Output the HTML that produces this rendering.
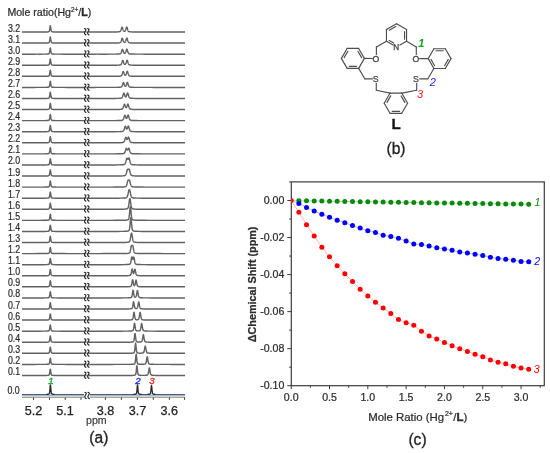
<!DOCTYPE html>
<html><head><meta charset="utf-8"><title>Figure</title>
<style>
html,body{margin:0;padding:0;background:#fff;}
body{width:550px;height:453px;overflow:hidden;position:relative;font-family:"Liberation Sans", Arial, sans-serif;}
svg text{font-family:"Liberation Sans", Arial, sans-serif;}
</style></head><body>
<svg width="550" height="453" viewBox="0 0 550 453" style="position:absolute;left:0;top:0;filter:blur(0.3px)">
<rect width="550" height="453" fill="#fff"/>
<text x="7.4" y="15.5" font-size="10.6" fill="#2b2b2b" stroke="#2b2b2b" stroke-width="0.22">Mole ratio(Hg<tspan font-size="6.4" dy="-3.3">2+</tspan><tspan dy="3.3">/</tspan><tspan font-weight="bold" stroke-width="0.45">L</tspan>)</text>
<text x="7.9" y="31.50" font-size="10.4" fill="#2b2b2b" stroke="#2b2b2b" stroke-width="0.22" textLength="12.3" lengthAdjust="spacingAndGlyphs">3.2</text>
<polyline points="22,32.00 25,32.00 28,32.00 31,32.00 34,32.00 37,31.99 40,31.99 43,31.98 44.30,31.98 44.55,31.97 44.80,31.97 45.05,31.97 45.30,31.97 45.55,31.96 45.80,31.96 46,31.95 46.05,31.95 46.30,31.95 46.55,31.94 46.80,31.93 47.05,31.92 47.30,31.91 47.55,31.89 47.80,31.87 48.05,31.84 48.30,31.80 48.55,31.75 48.80,31.65 49,31.50 49.05,31.45 49.30,31.01 49.55,30.08 49.80,28.55 50.05,26.73 50.30,25.80 50.55,26.73 50.80,28.55 51.05,30.08 51.30,31.01 51.55,31.45 51.80,31.65 52,31.73 52.05,31.75 52.30,31.80 52.55,31.84 52.80,31.87 53.05,31.89 53.30,31.91 53.55,31.92 53.80,31.93 54.05,31.94 54.30,31.95 54.55,31.95 54.80,31.96 55,31.96 55.05,31.96 55.30,31.97 55.55,31.97 55.80,31.97 56.05,31.97 56.30,31.98 58,31.98 61,31.99 64,31.99 67,32.00 70,32.00 73,32.00 76,32.00 79,32.00 82,32.00 85,32.00 88,32.00 91,32.00 94,32.00 97,31.99 100,31.99 103,31.99 106,31.99 109,31.98 112,31.97 115,31.95 116.06,31.93 116.31,31.93 116.56,31.92 116.81,31.91 117.06,31.90 117.31,31.90 117.56,31.89 117.81,31.87 118,31.86 118.06,31.86 118.31,31.84 118.56,31.82 118.81,31.80 119.06,31.77 119.31,31.73 119.56,31.67 119.81,31.58 120.06,31.44 120.31,31.22 120.56,30.88 120.71,30.60 120.81,30.38 120.96,30.01 121,29.90 121.06,29.73 121.21,29.26 121.31,28.94 121.46,28.44 121.56,28.13 121.71,27.70 121.81,27.47 121.96,27.25 122.06,27.21 122.21,27.31 122.31,27.47 122.46,27.82 122.56,28.11 122.71,28.59 122.81,28.91 122.96,29.38 123.06,29.67 123.21,30.06 123.31,30.30 123.46,30.59 123.56,30.76 123.71,30.96 123.81,31.06 123.96,31.18 124,31.20 124.06,31.23 124.21,31.28 124.31,31.30 124.46,31.30 124.56,31.28 124.71,31.22 124.81,31.16 124.96,31.04 125.06,30.93 125.21,30.72 125.31,30.54 125.46,30.23 125.56,29.99 125.71,29.58 125.81,29.27 125.96,28.78 126.06,28.44 126.21,27.95 126.31,27.65 126.46,27.28 126.56,27.11 126.71,27.02 126.81,27.06 126.96,27.29 127,27.38 127.06,27.53 127.21,27.97 127.31,28.31 127.46,28.82 127.56,29.16 127.71,29.64 127.81,29.93 127.96,30.32 128.06,30.55 128.21,30.84 128.46,31.19 128.71,31.43 128.96,31.57 129.21,31.66 129.46,31.72 129.71,31.76 129.96,31.80 130,31.80 130.21,31.82 130.46,31.84 130.71,31.86 130.96,31.87 131.21,31.88 131.46,31.89 131.71,31.90 131.96,31.91 132.21,31.92 132.46,31.92 132.71,31.93 133,31.93 136,31.97 139,31.98 142,31.99 145,31.99 148,31.99 151,31.99 154,32.00 157,32.00 160,32.00 163,32.00 166,32.00 169,32.00 172,32.00 175,32.00 178,32.00 181,32.00 184,32.00 185,32.00" fill="none" stroke="#626262" stroke-width="1.45" stroke-linejoin="round"/>
<rect x="84.60" y="30.90" width="4.2" height="2.2" fill="#fff" fill-opacity="0.45"/><path d="M84.60,28.60 C85.50,28.70 86.20,29.50 85.80,30.40 L84.80,32.00 C84.30,33.00 84.50,34.40 85.90,34.90" fill="none" stroke="#1e1e1e" stroke-width="1.15" stroke-linecap="round"/><path d="M87.70,28.60 C88.60,28.70 89.30,29.50 88.90,30.40 L87.90,32.00 C87.40,33.00 87.60,34.40 89.00,34.90" fill="none" stroke="#1e1e1e" stroke-width="1.15" stroke-linecap="round"/>
<text x="7.9" y="42.58" font-size="10.4" fill="#2b2b2b" stroke="#2b2b2b" stroke-width="0.22" textLength="12.3" lengthAdjust="spacingAndGlyphs">3.1</text>
<polyline points="22,43.08 25,43.08 28,43.08 31,43.08 34,43.08 37,43.07 40,43.07 43,43.06 44.30,43.06 44.55,43.05 44.80,43.05 45.05,43.05 45.30,43.05 45.55,43.04 45.80,43.04 46,43.03 46.05,43.03 46.30,43.03 46.55,43.02 46.80,43.01 47.05,43.00 47.30,42.99 47.55,42.97 47.80,42.95 48.05,42.92 48.30,42.88 48.55,42.83 48.80,42.73 49,42.58 49.05,42.53 49.30,42.09 49.55,41.16 49.80,39.63 50.05,37.81 50.30,36.88 50.55,37.81 50.80,39.63 51.05,41.16 51.30,42.09 51.55,42.53 51.80,42.73 52,42.81 52.05,42.83 52.30,42.88 52.55,42.92 52.80,42.95 53.05,42.97 53.30,42.99 53.55,43.00 53.80,43.01 54.05,43.02 54.30,43.03 54.55,43.03 54.80,43.04 55,43.04 55.05,43.04 55.30,43.05 55.55,43.05 55.80,43.05 56.05,43.05 56.30,43.06 58,43.06 61,43.07 64,43.07 67,43.08 70,43.08 73,43.08 76,43.08 79,43.08 82,43.08 85,43.08 88,43.08 91,43.08 94,43.08 97,43.07 100,43.07 103,43.07 106,43.07 109,43.06 112,43.05 115,43.03 116.25,43.01 116.50,43.00 116.75,43.00 117,42.99 117.25,42.98 117.50,42.98 117.75,42.97 118,42.95 118.25,42.94 118.50,42.92 118.75,42.90 119,42.88 119.25,42.85 119.50,42.81 119.75,42.75 120,42.66 120.25,42.52 120.50,42.30 120.75,41.96 120.81,41.86 121,41.46 121.06,41.32 121.25,40.81 121.31,40.63 121.50,40.02 121.56,39.83 121.75,39.21 121.81,39.03 122,38.55 122.06,38.44 122.25,38.29 122.31,38.30 122.50,38.54 122.56,38.67 122.75,39.18 122.81,39.37 123,39.98 123.06,40.17 123.25,40.74 123.31,40.90 123.50,41.36 123.56,41.49 123.75,41.82 123.81,41.91 124,42.12 124.06,42.17 124.25,42.29 124.31,42.31 124.50,42.34 124.56,42.34 124.75,42.30 124.81,42.28 125,42.15 125.06,42.10 125.25,41.87 125.31,41.78 125.50,41.43 125.56,41.29 125.75,40.81 125.81,40.64 126,40.04 126.06,39.84 126.25,39.21 126.31,39.01 126.50,38.48 126.56,38.35 126.75,38.10 126.81,38.09 127,38.26 127.06,38.37 127.25,38.87 127.31,39.06 127.50,39.71 127.56,39.91 127.75,40.54 127.81,40.73 128,41.26 128.06,41.41 128.25,41.82 128.31,41.92 128.56,42.28 128.81,42.51 129.06,42.65 129.31,42.74 129.56,42.80 129.81,42.84 130,42.87 130.06,42.87 130.31,42.90 130.56,42.92 130.81,42.94 131.06,42.95 131.31,42.96 131.56,42.97 131.81,42.98 132.06,42.99 132.31,43.00 132.56,43.00 132.81,43.01 133,43.01 136,43.05 139,43.06 142,43.07 145,43.07 148,43.07 151,43.07 154,43.08 157,43.08 160,43.08 163,43.08 166,43.08 169,43.08 172,43.08 175,43.08 178,43.08 181,43.08 184,43.08 185,43.08" fill="none" stroke="#626262" stroke-width="1.45" stroke-linejoin="round"/>
<rect x="84.60" y="41.98" width="4.2" height="2.2" fill="#fff" fill-opacity="0.45"/><path d="M84.60,39.68 C85.50,39.78 86.20,40.58 85.80,41.48 L84.80,43.08 C84.30,44.08 84.50,45.48 85.90,45.98" fill="none" stroke="#1e1e1e" stroke-width="1.15" stroke-linecap="round"/><path d="M87.70,39.68 C88.60,39.78 89.30,40.58 88.90,41.48 L87.90,43.08 C87.40,44.08 87.60,45.48 89.00,45.98" fill="none" stroke="#1e1e1e" stroke-width="1.15" stroke-linecap="round"/>
<text x="7.9" y="53.66" font-size="10.4" fill="#2b2b2b" stroke="#2b2b2b" stroke-width="0.22" textLength="12.3" lengthAdjust="spacingAndGlyphs">3.0</text>
<polyline points="22,54.16 25,54.16 28,54.16 31,54.16 34,54.16 37,54.15 40,54.15 43,54.14 44.30,54.14 44.55,54.13 44.80,54.13 45.05,54.13 45.30,54.13 45.55,54.12 45.80,54.12 46,54.11 46.05,54.11 46.30,54.11 46.55,54.10 46.80,54.09 47.05,54.08 47.30,54.07 47.55,54.05 47.80,54.03 48.05,54.00 48.30,53.96 48.55,53.91 48.80,53.81 49,53.66 49.05,53.61 49.30,53.17 49.55,52.24 49.80,50.71 50.05,48.89 50.30,47.96 50.55,48.89 50.80,50.71 51.05,52.24 51.30,53.17 51.55,53.61 51.80,53.81 52,53.89 52.05,53.91 52.30,53.96 52.55,54.00 52.80,54.03 53.05,54.05 53.30,54.07 53.55,54.08 53.80,54.09 54.05,54.10 54.30,54.11 54.55,54.11 54.80,54.12 55,54.12 55.05,54.12 55.30,54.13 55.55,54.13 55.80,54.13 56.05,54.13 56.30,54.14 58,54.14 61,54.15 64,54.15 67,54.16 70,54.16 73,54.16 76,54.16 79,54.16 82,54.16 85,54.16 88,54.16 91,54.16 94,54.16 97,54.15 100,54.15 103,54.15 106,54.15 109,54.14 112,54.13 115,54.11 116.44,54.09 116.69,54.08 116.94,54.08 117.19,54.07 117.44,54.06 117.69,54.06 117.94,54.04 118,54.04 118.19,54.03 118.44,54.02 118.69,54.00 118.94,53.98 119.19,53.96 119.44,53.93 119.69,53.89 119.94,53.83 120.19,53.74 120.44,53.60 120.69,53.38 120.87,53.15 120.94,53.04 121,52.94 121.12,52.70 121.19,52.55 121.37,52.09 121.44,51.89 121.62,51.34 121.69,51.11 121.87,50.51 121.94,50.29 122.12,49.79 122.19,49.63 122.37,49.39 122.44,49.36 122.62,49.49 122.69,49.61 122.87,50.04 122.94,50.25 123.12,50.82 123.19,51.04 123.37,51.60 123.44,51.80 123.62,52.27 123.69,52.43 123.87,52.77 123.94,52.88 124,52.97 124.12,53.11 124.19,53.18 124.37,53.30 124.44,53.33 124.62,53.37 124.69,53.37 124.87,53.32 124.94,53.29 125.12,53.16 125.19,53.09 125.37,52.85 125.44,52.73 125.62,52.37 125.69,52.21 125.87,51.72 125.94,51.51 126.12,50.93 126.19,50.69 126.37,50.10 126.44,49.88 126.62,49.43 126.69,49.30 126.87,49.17 126.94,49.19 127,49.24 127.12,49.44 127.19,49.60 127.37,50.13 127.44,50.36 127.62,50.98 127.69,51.21 127.87,51.79 127.94,52.00 128.12,52.48 128.19,52.64 128.37,52.99 128.44,53.11 128.62,53.35 128.87,53.58 129.12,53.73 129.37,53.82 129.62,53.88 129.87,53.92 130,53.94 130.12,53.95 130.37,53.98 130.62,54.00 130.87,54.02 131.12,54.03 131.37,54.04 131.62,54.05 131.87,54.06 132.12,54.07 132.37,54.08 132.62,54.08 132.87,54.09 133,54.09 136,54.13 139,54.14 142,54.15 145,54.15 148,54.15 151,54.15 154,54.16 157,54.16 160,54.16 163,54.16 166,54.16 169,54.16 172,54.16 175,54.16 178,54.16 181,54.16 184,54.16 185,54.16" fill="none" stroke="#626262" stroke-width="1.45" stroke-linejoin="round"/>
<rect x="84.60" y="53.06" width="4.2" height="2.2" fill="#fff" fill-opacity="0.45"/><path d="M84.60,50.76 C85.50,50.86 86.20,51.66 85.80,52.56 L84.80,54.16 C84.30,55.16 84.50,56.56 85.90,57.06" fill="none" stroke="#1e1e1e" stroke-width="1.15" stroke-linecap="round"/><path d="M87.70,50.76 C88.60,50.86 89.30,51.66 88.90,52.56 L87.90,54.16 C87.40,55.16 87.60,56.56 89.00,57.06" fill="none" stroke="#1e1e1e" stroke-width="1.15" stroke-linecap="round"/>
<text x="7.9" y="64.74" font-size="10.4" fill="#2b2b2b" stroke="#2b2b2b" stroke-width="0.22" textLength="12.3" lengthAdjust="spacingAndGlyphs">2.9</text>
<polyline points="22,65.24 25,65.24 28,65.24 31,65.24 34,65.24 37,65.23 40,65.23 43,65.22 44.30,65.22 44.55,65.21 44.80,65.21 45.05,65.21 45.30,65.21 45.55,65.20 45.80,65.20 46,65.19 46.05,65.19 46.30,65.19 46.55,65.18 46.80,65.17 47.05,65.16 47.30,65.15 47.55,65.13 47.80,65.11 48.05,65.08 48.30,65.04 48.55,64.99 48.80,64.89 49,64.74 49.05,64.69 49.30,64.25 49.55,63.32 49.80,61.79 50.05,59.97 50.30,59.04 50.55,59.97 50.80,61.79 51.05,63.32 51.30,64.25 51.55,64.69 51.80,64.89 52,64.97 52.05,64.99 52.30,65.04 52.55,65.08 52.80,65.11 53.05,65.13 53.30,65.15 53.55,65.16 53.80,65.17 54.05,65.18 54.30,65.19 54.55,65.19 54.80,65.20 55,65.20 55.05,65.20 55.30,65.21 55.55,65.21 55.80,65.21 56.05,65.21 56.30,65.22 58,65.22 61,65.23 64,65.23 67,65.24 70,65.24 73,65.24 76,65.24 79,65.24 82,65.24 85,65.24 88,65.24 91,65.24 94,65.24 97,65.23 100,65.23 103,65.23 106,65.23 109,65.22 112,65.21 115,65.20 116.76,65.17 117.01,65.16 117.26,65.16 117.51,65.15 117.76,65.14 118,65.14 118.01,65.13 118.26,65.12 118.51,65.11 118.76,65.10 119.01,65.08 119.26,65.06 119.51,65.04 119.76,65.01 120.01,64.97 120.26,64.91 120.51,64.82 120.76,64.68 121,64.47 121.01,64.46 121.10,64.35 121.26,64.12 121.35,63.96 121.51,63.62 121.60,63.41 121.76,62.97 121.85,62.70 122.01,62.18 122.10,61.89 122.26,61.37 122.35,61.10 122.51,60.71 122.60,60.55 122.76,60.44 122.85,60.47 123.01,60.68 123.10,60.88 123.26,61.32 123.35,61.60 123.51,62.11 123.60,62.40 123.76,62.87 123.85,63.11 124,63.47 124.01,63.49 124.10,63.68 124.26,63.95 124.35,64.07 124.51,64.23 124.60,64.30 124.76,64.38 124.85,64.40 125.01,64.39 125.10,64.37 125.26,64.28 125.35,64.21 125.51,64.03 125.60,63.90 125.76,63.62 125.85,63.43 126.01,63.03 126.10,62.77 126.26,62.28 126.35,61.98 126.51,61.44 126.60,61.15 126.76,60.70 126.85,60.49 127,60.28 127.01,60.27 127.10,60.24 127.26,60.37 127.35,60.53 127.51,60.94 127.60,61.22 127.76,61.76 127.85,62.07 128.01,62.61 128.10,62.89 128.26,63.34 128.35,63.57 128.51,63.92 128.60,64.08 128.76,64.32 128.85,64.44 129.10,64.67 129.35,64.81 129.60,64.90 129.85,64.96 130,64.99 130.10,65.00 130.35,65.03 130.60,65.06 130.85,65.08 131.10,65.10 131.35,65.11 131.60,65.12 131.85,65.13 132.10,65.14 132.35,65.15 132.60,65.16 132.85,65.16 133,65.17 133.10,65.17 136,65.20 139,65.22 142,65.23 145,65.23 148,65.23 151,65.23 154,65.24 157,65.24 160,65.24 163,65.24 166,65.24 169,65.24 172,65.24 175,65.24 178,65.24 181,65.24 184,65.24 185,65.24" fill="none" stroke="#626262" stroke-width="1.45" stroke-linejoin="round"/>
<rect x="84.60" y="64.14" width="4.2" height="2.2" fill="#fff" fill-opacity="0.45"/><path d="M84.60,61.84 C85.50,61.94 86.20,62.74 85.80,63.64 L84.80,65.24 C84.30,66.24 84.50,67.64 85.90,68.14" fill="none" stroke="#1e1e1e" stroke-width="1.15" stroke-linecap="round"/><path d="M87.70,61.84 C88.60,61.94 89.30,62.74 88.90,63.64 L87.90,65.24 C87.40,66.24 87.60,67.64 89.00,68.14" fill="none" stroke="#1e1e1e" stroke-width="1.15" stroke-linecap="round"/>
<text x="7.9" y="75.82" font-size="10.4" fill="#2b2b2b" stroke="#2b2b2b" stroke-width="0.22" textLength="12.3" lengthAdjust="spacingAndGlyphs">2.8</text>
<polyline points="22,76.32 25,76.32 28,76.32 31,76.32 34,76.32 37,76.31 40,76.31 43,76.30 44.30,76.30 44.55,76.29 44.80,76.29 45.05,76.29 45.30,76.29 45.55,76.28 45.80,76.28 46,76.27 46.05,76.27 46.30,76.27 46.55,76.26 46.80,76.25 47.05,76.24 47.30,76.23 47.55,76.21 47.80,76.19 48.05,76.16 48.30,76.12 48.55,76.07 48.80,75.97 49,75.82 49.05,75.77 49.30,75.33 49.55,74.40 49.80,72.87 50.05,71.05 50.30,70.12 50.55,71.05 50.80,72.87 51.05,74.40 51.30,75.33 51.55,75.77 51.80,75.97 52,76.05 52.05,76.07 52.30,76.12 52.55,76.16 52.80,76.19 53.05,76.21 53.30,76.23 53.55,76.24 53.80,76.25 54.05,76.26 54.30,76.27 54.55,76.27 54.80,76.28 55,76.28 55.05,76.28 55.30,76.29 55.55,76.29 55.80,76.29 56.05,76.29 56.30,76.30 58,76.30 61,76.31 64,76.31 67,76.32 70,76.32 73,76.32 76,76.32 79,76.32 82,76.32 85,76.32 88,76.32 91,76.32 94,76.32 97,76.31 100,76.31 103,76.31 106,76.31 109,76.30 112,76.30 115,76.28 117.21,76.25 117.46,76.24 117.71,76.24 117.96,76.23 118,76.23 118.21,76.22 118.46,76.21 118.71,76.20 118.96,76.19 119.21,76.18 119.46,76.16 119.71,76.14 119.96,76.12 120.21,76.08 120.46,76.04 120.71,75.99 120.96,75.90 121,75.88 121.21,75.76 121.26,75.72 121.46,75.53 121.51,75.47 121.71,75.19 121.76,75.10 121.96,74.69 122.01,74.57 122.21,74.04 122.26,73.89 122.46,73.25 122.51,73.08 122.71,72.43 122.76,72.28 122.96,71.77 123.01,71.68 123.21,71.50 123.26,71.51 123.46,71.75 123.51,71.86 123.71,72.39 123.76,72.54 123.96,73.18 124,73.30 124.01,73.33 124.21,73.93 124.26,74.06 124.46,74.54 124.51,74.64 124.71,74.97 124.76,75.04 124.96,75.23 125.01,75.26 125.21,75.31 125.26,75.31 125.46,75.24 125.51,75.20 125.71,75.00 125.76,74.93 125.96,74.57 126.01,74.47 126.21,73.96 126.26,73.82 126.46,73.20 126.51,73.04 126.71,72.37 126.76,72.21 126.96,71.66 127,71.58 127.01,71.56 127.21,71.32 127.26,71.31 127.46,71.50 127.51,71.60 127.71,72.13 127.76,72.29 127.96,72.97 128.01,73.15 128.21,73.81 128.26,73.96 128.46,74.52 128.51,74.64 128.71,75.07 128.76,75.16 128.96,75.45 129.01,75.51 129.21,75.70 129.26,75.74 129.51,75.89 129.76,75.98 130,76.03 130.01,76.04 130.26,76.08 130.51,76.11 130.76,76.14 131.01,76.16 131.26,76.17 131.51,76.19 131.76,76.20 132.01,76.21 132.26,76.22 132.51,76.23 132.76,76.24 133,76.24 133.01,76.24 133.26,76.25 136,76.28 139,76.30 142,76.31 145,76.31 148,76.31 151,76.31 154,76.32 157,76.32 160,76.32 163,76.32 166,76.32 169,76.32 172,76.32 175,76.32 178,76.32 181,76.32 184,76.32 185,76.32" fill="none" stroke="#626262" stroke-width="1.45" stroke-linejoin="round"/>
<rect x="84.60" y="75.22" width="4.2" height="2.2" fill="#fff" fill-opacity="0.45"/><path d="M84.60,72.92 C85.50,73.02 86.20,73.82 85.80,74.72 L84.80,76.32 C84.30,77.32 84.50,78.72 85.90,79.22" fill="none" stroke="#1e1e1e" stroke-width="1.15" stroke-linecap="round"/><path d="M87.70,72.92 C88.60,73.02 89.30,73.82 88.90,74.72 L87.90,76.32 C87.40,77.32 87.60,78.72 89.00,79.22" fill="none" stroke="#1e1e1e" stroke-width="1.15" stroke-linecap="round"/>
<text x="7.9" y="86.90" font-size="10.4" fill="#2b2b2b" stroke="#2b2b2b" stroke-width="0.22" textLength="12.3" lengthAdjust="spacingAndGlyphs">2.7</text>
<polyline points="22,87.40 25,87.40 28,87.40 31,87.40 34,87.40 37,87.39 40,87.39 43,87.38 44.30,87.38 44.55,87.37 44.80,87.37 45.05,87.37 45.30,87.37 45.55,87.36 45.80,87.36 46,87.35 46.05,87.35 46.30,87.35 46.55,87.34 46.80,87.33 47.05,87.32 47.30,87.31 47.55,87.29 47.80,87.27 48.05,87.24 48.30,87.20 48.55,87.15 48.80,87.05 49,86.90 49.05,86.85 49.30,86.41 49.55,85.48 49.80,83.95 50.05,82.13 50.30,81.20 50.55,82.13 50.80,83.95 51.05,85.48 51.30,86.41 51.55,86.85 51.80,87.05 52,87.13 52.05,87.15 52.30,87.20 52.55,87.24 52.80,87.27 53.05,87.29 53.30,87.31 53.55,87.32 53.80,87.33 54.05,87.34 54.30,87.35 54.55,87.35 54.80,87.36 55,87.36 55.05,87.36 55.30,87.37 55.55,87.37 55.80,87.37 56.05,87.37 56.30,87.38 58,87.38 61,87.39 64,87.39 67,87.40 70,87.40 73,87.40 76,87.40 79,87.40 82,87.40 85,87.40 88,87.40 91,87.40 94,87.40 97,87.39 100,87.39 103,87.39 106,87.39 109,87.38 112,87.38 115,87.36 117.46,87.33 117.71,87.32 117.96,87.32 118,87.32 118.21,87.31 118.46,87.30 118.71,87.29 118.96,87.28 119.21,87.27 119.46,87.26 119.71,87.24 119.96,87.22 120.21,87.19 120.46,87.16 120.71,87.12 120.96,87.07 121,87.05 121.21,86.98 121.38,86.89 121.46,86.84 121.63,86.70 121.71,86.62 121.88,86.40 121.96,86.28 122.13,85.96 122.21,85.78 122.38,85.36 122.46,85.13 122.63,84.61 122.71,84.34 122.88,83.78 122.96,83.53 123.13,83.04 123.21,82.86 123.38,82.61 123.46,82.58 123.63,82.68 123.71,82.81 123.88,83.21 123.96,83.44 124,83.56 124.13,83.97 124.21,84.22 124.38,84.74 124.46,84.97 124.63,85.40 124.71,85.58 124.88,85.89 124.96,86.01 125.13,86.19 125.21,86.24 125.38,86.30 125.46,86.30 125.63,86.23 125.71,86.17 125.88,85.98 125.96,85.86 126.13,85.54 126.21,85.36 126.38,84.91 126.46,84.67 126.63,84.13 126.71,83.86 126.88,83.31 126.96,83.07 127,82.96 127.13,82.64 127.21,82.51 127.38,82.38 127.46,82.41 127.63,82.66 127.71,82.84 127.88,83.34 127.96,83.61 128.13,84.19 128.21,84.47 128.38,85.02 128.46,85.25 128.63,85.70 128.71,85.89 128.88,86.22 128.96,86.35 129.13,86.58 129.21,86.67 129.38,86.81 129.46,86.87 129.63,86.96 129.88,87.05 130,87.09 130.13,87.11 130.38,87.16 130.63,87.19 130.88,87.21 131.13,87.23 131.38,87.25 131.63,87.27 131.88,87.28 132.13,87.29 132.38,87.30 132.63,87.31 132.88,87.31 133,87.32 133.13,87.32 133.38,87.33 136,87.36 139,87.38 142,87.39 145,87.39 148,87.39 151,87.39 154,87.40 157,87.40 160,87.40 163,87.40 166,87.40 169,87.40 172,87.40 175,87.40 178,87.40 181,87.40 184,87.40 185,87.40" fill="none" stroke="#626262" stroke-width="1.45" stroke-linejoin="round"/>
<rect x="84.60" y="86.30" width="4.2" height="2.2" fill="#fff" fill-opacity="0.45"/><path d="M84.60,84.00 C85.50,84.10 86.20,84.90 85.80,85.80 L84.80,87.40 C84.30,88.40 84.50,89.80 85.90,90.30" fill="none" stroke="#1e1e1e" stroke-width="1.15" stroke-linecap="round"/><path d="M87.70,84.00 C88.60,84.10 89.30,84.90 88.90,85.80 L87.90,87.40 C87.40,88.40 87.60,89.80 89.00,90.30" fill="none" stroke="#1e1e1e" stroke-width="1.15" stroke-linecap="round"/>
<text x="7.9" y="97.98" font-size="10.4" fill="#2b2b2b" stroke="#2b2b2b" stroke-width="0.22" textLength="12.3" lengthAdjust="spacingAndGlyphs">2.6</text>
<polyline points="22,98.48 25,98.48 28,98.48 31,98.48 34,98.48 37,98.47 40,98.47 43,98.46 44.30,98.46 44.55,98.45 44.80,98.45 45.05,98.45 45.30,98.45 45.55,98.44 45.80,98.44 46,98.43 46.05,98.43 46.30,98.43 46.55,98.42 46.80,98.41 47.05,98.40 47.30,98.39 47.55,98.37 47.80,98.35 48.05,98.32 48.30,98.28 48.55,98.23 48.80,98.13 49,97.98 49.05,97.93 49.30,97.49 49.55,96.56 49.80,95.03 50.05,93.21 50.30,92.28 50.55,93.21 50.80,95.03 51.05,96.56 51.30,97.49 51.55,97.93 51.80,98.13 52,98.21 52.05,98.23 52.30,98.28 52.55,98.32 52.80,98.35 53.05,98.37 53.30,98.39 53.55,98.40 53.80,98.41 54.05,98.42 54.30,98.43 54.55,98.43 54.80,98.44 55,98.44 55.05,98.44 55.30,98.45 55.55,98.45 55.80,98.45 56.05,98.45 56.30,98.46 58,98.46 61,98.47 64,98.47 67,98.48 70,98.48 73,98.48 76,98.48 79,98.48 82,98.48 85,98.48 88,98.48 91,98.48 94,98.47 97,98.47 100,98.47 103,98.47 106,98.47 109,98.46 112,98.45 115,98.44 117.85,98.39 118,98.39 118.10,98.38 118.35,98.38 118.60,98.37 118.85,98.36 119.10,98.35 119.35,98.33 119.60,98.32 119.85,98.30 120.10,98.28 120.35,98.26 120.60,98.23 120.85,98.19 121,98.16 121.10,98.13 121.35,98.06 121.60,97.94 121.61,97.94 121.85,97.76 121.86,97.75 122.10,97.48 122.11,97.47 122.35,97.07 122.36,97.05 122.60,96.50 122.61,96.47 122.85,95.77 122.86,95.74 123.10,94.92 123.11,94.89 123.35,94.07 123.36,94.04 123.60,93.39 123.61,93.37 123.85,93.12 123.86,93.12 124,93.20 124.10,93.36 124.11,93.38 124.35,94.00 124.36,94.03 124.60,94.81 124.61,94.84 124.85,95.59 124.86,95.62 125.10,96.23 125.11,96.25 125.35,96.68 125.36,96.69 125.60,96.90 125.61,96.90 125.85,96.89 125.86,96.89 126.10,96.65 126.11,96.64 126.35,96.19 126.36,96.16 126.60,95.52 126.61,95.49 126.85,94.70 126.86,94.67 127,94.19 127.10,93.86 127.11,93.83 127.35,93.19 127.36,93.17 127.60,92.92 127.61,92.93 127.85,93.19 127.86,93.22 128.10,93.89 128.11,93.92 128.35,94.77 128.36,94.81 128.60,95.65 128.61,95.69 128.85,96.41 128.86,96.44 129.10,97.01 129.11,97.03 129.35,97.44 129.36,97.45 129.60,97.73 129.61,97.74 129.85,97.92 129.86,97.93 130,98.00 130.11,98.05 130.36,98.13 130.61,98.18 130.86,98.22 131.11,98.25 131.36,98.28 131.61,98.30 131.86,98.32 132.11,98.33 132.36,98.34 132.61,98.36 132.86,98.37 133,98.37 133.11,98.38 133.36,98.38 133.61,98.39 136,98.43 139,98.45 142,98.46 145,98.47 148,98.47 151,98.47 154,98.47 157,98.47 160,98.48 163,98.48 166,98.48 169,98.48 172,98.48 175,98.48 178,98.48 181,98.48 184,98.48 185,98.48" fill="none" stroke="#626262" stroke-width="1.45" stroke-linejoin="round"/>
<rect x="84.60" y="97.38" width="4.2" height="2.2" fill="#fff" fill-opacity="0.45"/><path d="M84.60,95.08 C85.50,95.18 86.20,95.98 85.80,96.88 L84.80,98.48 C84.30,99.48 84.50,100.88 85.90,101.38" fill="none" stroke="#1e1e1e" stroke-width="1.15" stroke-linecap="round"/><path d="M87.70,95.08 C88.60,95.18 89.30,95.98 88.90,96.88 L87.90,98.48 C87.40,99.48 87.60,100.88 89.00,101.38" fill="none" stroke="#1e1e1e" stroke-width="1.15" stroke-linecap="round"/>
<text x="7.9" y="109.06" font-size="10.4" fill="#2b2b2b" stroke="#2b2b2b" stroke-width="0.22" textLength="12.3" lengthAdjust="spacingAndGlyphs">2.5</text>
<polyline points="22,109.56 25,109.56 28,109.56 31,109.56 34,109.56 37,109.55 40,109.55 43,109.54 44.30,109.54 44.55,109.53 44.80,109.53 45.05,109.53 45.30,109.53 45.55,109.52 45.80,109.52 46,109.51 46.05,109.51 46.30,109.51 46.55,109.50 46.80,109.49 47.05,109.48 47.30,109.47 47.55,109.45 47.80,109.43 48.05,109.40 48.30,109.36 48.55,109.31 48.80,109.21 49,109.06 49.05,109.01 49.30,108.57 49.55,107.64 49.80,106.11 50.05,104.29 50.30,103.36 50.55,104.29 50.80,106.11 51.05,107.64 51.30,108.57 51.55,109.01 51.80,109.21 52,109.29 52.05,109.31 52.30,109.36 52.55,109.40 52.80,109.43 53.05,109.45 53.30,109.47 53.55,109.48 53.80,109.49 54.05,109.50 54.30,109.51 54.55,109.51 54.80,109.52 55,109.52 55.05,109.52 55.30,109.53 55.55,109.53 55.80,109.53 56.05,109.53 56.30,109.54 58,109.54 61,109.55 64,109.55 67,109.56 70,109.56 73,109.56 76,109.56 79,109.56 82,109.56 85,109.56 88,109.56 91,109.56 94,109.55 97,109.55 100,109.55 103,109.55 106,109.55 109,109.54 112,109.54 115,109.52 118,109.48 118.39,109.47 118.64,109.46 118.89,109.46 119.14,109.45 119.39,109.44 119.64,109.43 119.89,109.41 120.14,109.40 120.39,109.38 120.64,109.36 120.89,109.33 121,109.32 121.14,109.30 121.39,109.26 121.64,109.21 121.89,109.13 121.90,109.13 122.14,109.02 122.15,109.01 122.39,108.84 122.40,108.83 122.64,108.56 122.65,108.55 122.89,108.15 122.90,108.13 123.14,107.58 123.15,107.55 123.39,106.85 123.40,106.82 123.64,106.01 123.65,105.97 123.89,105.15 123.90,105.11 124,104.81 124.14,104.46 124.15,104.44 124.39,104.18 124.40,104.18 124.64,104.40 124.65,104.42 124.89,105.03 124.90,105.06 125.14,105.82 125.15,105.85 125.39,106.58 125.40,106.61 125.64,107.19 125.65,107.21 125.89,107.57 125.90,107.58 126.14,107.69 126.15,107.69 126.39,107.55 126.40,107.54 126.64,107.15 126.65,107.13 126.89,106.52 126.90,106.49 127,106.18 127.14,105.73 127.15,105.69 127.39,104.90 127.40,104.87 127.64,104.24 127.65,104.22 127.89,103.98 127.90,103.98 128.14,104.26 128.15,104.28 128.39,104.96 128.40,104.99 128.64,105.85 128.65,105.89 128.89,106.73 128.90,106.76 129.14,107.49 129.15,107.52 129.39,108.09 129.40,108.11 129.64,108.52 129.65,108.53 129.89,108.81 129.90,108.82 130,108.90 130.14,109.00 130.15,109.00 130.39,109.12 130.40,109.12 130.65,109.20 130.90,109.26 131.15,109.30 131.40,109.33 131.65,109.36 131.90,109.38 132.15,109.39 132.40,109.41 132.65,109.42 132.90,109.43 133,109.44 133.15,109.44 133.40,109.45 133.65,109.46 133.90,109.47 136,109.51 139,109.53 142,109.54 145,109.55 148,109.55 151,109.55 154,109.55 157,109.55 160,109.56 163,109.56 166,109.56 169,109.56 172,109.56 175,109.56 178,109.56 181,109.56 184,109.56 185,109.56" fill="none" stroke="#626262" stroke-width="1.45" stroke-linejoin="round"/>
<rect x="84.60" y="108.46" width="4.2" height="2.2" fill="#fff" fill-opacity="0.45"/><path d="M84.60,106.16 C85.50,106.26 86.20,107.06 85.80,107.96 L84.80,109.56 C84.30,110.56 84.50,111.96 85.90,112.46" fill="none" stroke="#1e1e1e" stroke-width="1.15" stroke-linecap="round"/><path d="M87.70,106.16 C88.60,106.26 89.30,107.06 88.90,107.96 L87.90,109.56 C87.40,110.56 87.60,111.96 89.00,112.46" fill="none" stroke="#1e1e1e" stroke-width="1.15" stroke-linecap="round"/>
<text x="7.9" y="120.14" font-size="10.4" fill="#2b2b2b" stroke="#2b2b2b" stroke-width="0.22" textLength="12.3" lengthAdjust="spacingAndGlyphs">2.4</text>
<polyline points="22,120.64 25,120.64 28,120.64 31,120.64 34,120.64 37,120.63 40,120.63 43,120.62 44.30,120.62 44.55,120.61 44.80,120.61 45.05,120.61 45.30,120.61 45.55,120.60 45.80,120.60 46,120.59 46.05,120.59 46.30,120.59 46.55,120.58 46.80,120.57 47.05,120.56 47.30,120.55 47.55,120.53 47.80,120.51 48.05,120.48 48.30,120.44 48.55,120.39 48.80,120.29 49,120.14 49.05,120.09 49.30,119.65 49.55,118.72 49.80,117.19 50.05,115.37 50.30,114.44 50.55,115.37 50.80,117.19 51.05,118.72 51.30,119.65 51.55,120.09 51.80,120.29 52,120.37 52.05,120.39 52.30,120.44 52.55,120.48 52.80,120.51 53.05,120.53 53.30,120.55 53.55,120.56 53.80,120.57 54.05,120.58 54.30,120.59 54.55,120.59 54.80,120.60 55,120.60 55.05,120.60 55.30,120.61 55.55,120.61 55.80,120.61 56.05,120.61 56.30,120.62 58,120.62 61,120.63 64,120.63 67,120.64 70,120.64 73,120.64 76,120.64 79,120.64 82,120.64 85,120.64 88,120.64 91,120.64 94,120.64 97,120.63 100,120.63 103,120.63 106,120.63 109,120.62 112,120.62 115,120.60 118,120.57 118.84,120.55 119.09,120.54 119.34,120.53 119.59,120.52 119.84,120.51 120.09,120.50 120.34,120.49 120.59,120.47 120.84,120.46 121,120.44 121.09,120.44 121.34,120.41 121.59,120.38 121.84,120.34 122.09,120.29 122.12,120.28 122.34,120.21 122.37,120.20 122.59,120.09 122.62,120.07 122.84,119.91 122.87,119.88 123.09,119.63 123.12,119.59 123.34,119.22 123.37,119.16 123.59,118.65 123.62,118.57 123.84,117.91 123.87,117.82 124,117.38 124.09,117.06 124.12,116.96 124.34,116.20 124.37,116.11 124.59,115.52 124.62,115.46 124.84,115.23 124.87,115.23 125.09,115.45 125.12,115.51 125.34,116.07 125.37,116.16 125.59,116.84 125.62,116.93 125.84,117.57 125.87,117.64 126.09,118.11 126.12,118.16 126.34,118.41 126.37,118.42 126.59,118.41 126.62,118.39 126.84,118.12 126.87,118.06 127,117.79 127.09,117.57 127.12,117.48 127.34,116.82 127.37,116.72 127.59,116.01 127.62,115.92 127.84,115.33 127.87,115.27 128.09,115.04 128.12,115.04 128.34,115.27 128.37,115.33 128.59,115.95 128.62,116.05 128.84,116.83 128.87,116.94 129.09,117.72 129.12,117.82 129.34,118.49 129.37,118.58 129.59,119.11 129.62,119.17 129.84,119.55 129.87,119.60 130,119.76 130.09,119.86 130.12,119.89 130.34,120.06 130.37,120.08 130.59,120.19 130.62,120.20 130.84,120.27 130.87,120.28 131.12,120.33 131.37,120.37 131.62,120.41 131.87,120.43 132.12,120.45 132.37,120.47 132.62,120.49 132.87,120.50 133,120.51 133.12,120.51 133.37,120.52 133.62,120.53 133.87,120.54 134.12,120.55 136,120.58 139,120.61 142,120.62 145,120.63 148,120.63 151,120.63 154,120.63 157,120.63 160,120.64 163,120.64 166,120.64 169,120.64 172,120.64 175,120.64 178,120.64 181,120.64 184,120.64 185,120.64" fill="none" stroke="#626262" stroke-width="1.45" stroke-linejoin="round"/>
<rect x="84.60" y="119.54" width="4.2" height="2.2" fill="#fff" fill-opacity="0.45"/><path d="M84.60,117.24 C85.50,117.34 86.20,118.14 85.80,119.04 L84.80,120.64 C84.30,121.64 84.50,123.04 85.90,123.54" fill="none" stroke="#1e1e1e" stroke-width="1.15" stroke-linecap="round"/><path d="M87.70,117.24 C88.60,117.34 89.30,118.14 88.90,119.04 L87.90,120.64 C87.40,121.64 87.60,123.04 89.00,123.54" fill="none" stroke="#1e1e1e" stroke-width="1.15" stroke-linecap="round"/>
<text x="7.9" y="131.22" font-size="10.4" fill="#2b2b2b" stroke="#2b2b2b" stroke-width="0.22" textLength="12.3" lengthAdjust="spacingAndGlyphs">2.3</text>
<polyline points="22,131.72 25,131.72 28,131.72 31,131.72 34,131.72 37,131.71 40,131.71 43,131.70 44.30,131.70 44.55,131.69 44.80,131.69 45.05,131.69 45.30,131.69 45.55,131.68 45.80,131.68 46,131.67 46.05,131.67 46.30,131.67 46.55,131.66 46.80,131.65 47.05,131.64 47.30,131.63 47.55,131.61 47.80,131.59 48.05,131.56 48.30,131.52 48.55,131.47 48.80,131.37 49,131.22 49.05,131.17 49.30,130.73 49.55,129.80 49.80,128.27 50.05,126.45 50.30,125.52 50.55,126.45 50.80,128.27 51.05,129.80 51.30,130.73 51.55,131.17 51.80,131.37 52,131.45 52.05,131.47 52.30,131.52 52.55,131.56 52.80,131.59 53.05,131.61 53.30,131.63 53.55,131.64 53.80,131.65 54.05,131.66 54.30,131.67 54.55,131.67 54.80,131.68 55,131.68 55.05,131.68 55.30,131.69 55.55,131.69 55.80,131.69 56.05,131.69 56.30,131.70 58,131.70 61,131.71 64,131.71 67,131.72 70,131.72 73,131.72 76,131.72 79,131.72 82,131.72 85,131.72 88,131.72 91,131.72 94,131.72 97,131.71 100,131.71 103,131.71 106,131.71 109,131.70 112,131.70 115,131.68 118,131.65 119.29,131.63 119.54,131.62 119.79,131.61 120.04,131.60 120.29,131.59 120.54,131.58 120.79,131.57 121,131.55 121.04,131.55 121.29,131.53 121.54,131.51 121.79,131.49 122.04,131.46 122.29,131.41 122.31,131.41 122.54,131.36 122.56,131.35 122.79,131.28 122.81,131.27 123.04,131.16 123.06,131.15 123.29,130.98 123.31,130.96 123.54,130.70 123.56,130.67 123.79,130.28 123.81,130.24 124,129.81 124.04,129.71 124.06,129.65 124.29,128.97 124.31,128.91 124.54,128.12 124.56,128.05 124.79,127.25 124.81,127.19 125.04,126.57 125.06,126.52 125.29,126.27 125.31,126.27 125.54,126.49 125.56,126.52 125.79,127.08 125.81,127.14 126.04,127.82 126.06,127.87 126.29,128.47 126.31,128.52 126.54,128.92 126.56,128.94 126.79,129.07 126.81,129.07 127,128.96 127.04,128.91 127.06,128.88 127.29,128.45 127.31,128.40 127.54,127.76 127.56,127.70 127.79,126.99 127.81,126.93 128.04,126.35 128.06,126.31 128.29,126.08 128.31,126.08 128.54,126.34 128.56,126.38 128.79,127.03 128.81,127.10 129.04,127.92 129.06,127.99 129.29,128.81 129.31,128.88 129.54,129.58 129.56,129.64 129.79,130.19 129.81,130.23 130,130.58 130.04,130.64 130.06,130.66 130.29,130.94 130.31,130.96 130.54,131.14 130.56,131.15 130.79,131.26 130.81,131.27 131.04,131.35 131.06,131.35 131.29,131.40 131.31,131.41 131.56,131.45 131.81,131.48 132.06,131.51 132.31,131.53 132.56,131.55 132.81,131.56 133,131.58 133.06,131.58 133.31,131.59 133.56,131.60 133.81,131.61 134.06,131.62 134.31,131.63 136,131.66 139,131.69 142,131.70 145,131.71 148,131.71 151,131.71 154,131.71 157,131.71 160,131.72 163,131.72 166,131.72 169,131.72 172,131.72 175,131.72 178,131.72 181,131.72 184,131.72 185,131.72" fill="none" stroke="#626262" stroke-width="1.45" stroke-linejoin="round"/>
<rect x="84.60" y="130.62" width="4.2" height="2.2" fill="#fff" fill-opacity="0.45"/><path d="M84.60,128.32 C85.50,128.42 86.20,129.22 85.80,130.12 L84.80,131.72 C84.30,132.72 84.50,134.12 85.90,134.62" fill="none" stroke="#1e1e1e" stroke-width="1.15" stroke-linecap="round"/><path d="M87.70,128.32 C88.60,128.42 89.30,129.22 88.90,130.12 L87.90,131.72 C87.40,132.72 87.60,134.12 89.00,134.62" fill="none" stroke="#1e1e1e" stroke-width="1.15" stroke-linecap="round"/>
<text x="7.9" y="142.30" font-size="10.4" fill="#2b2b2b" stroke="#2b2b2b" stroke-width="0.22" textLength="12.3" lengthAdjust="spacingAndGlyphs">2.2</text>
<polyline points="22,142.80 25,142.80 28,142.80 31,142.80 34,142.80 37,142.79 40,142.79 43,142.78 44.30,142.78 44.55,142.77 44.80,142.77 45.05,142.77 45.30,142.77 45.55,142.76 45.80,142.76 46,142.75 46.05,142.75 46.30,142.75 46.55,142.74 46.80,142.73 47.05,142.72 47.30,142.71 47.55,142.69 47.80,142.67 48.05,142.64 48.30,142.60 48.55,142.55 48.80,142.45 49,142.30 49.05,142.25 49.30,141.81 49.55,140.88 49.80,139.35 50.05,137.53 50.30,136.60 50.55,137.53 50.80,139.35 51.05,140.88 51.30,141.81 51.55,142.25 51.80,142.45 52,142.53 52.05,142.55 52.30,142.60 52.55,142.64 52.80,142.67 53.05,142.69 53.30,142.71 53.55,142.72 53.80,142.73 54.05,142.74 54.30,142.75 54.55,142.75 54.80,142.76 55,142.76 55.05,142.76 55.30,142.77 55.55,142.77 55.80,142.77 56.05,142.77 56.30,142.78 58,142.78 61,142.79 64,142.79 67,142.80 70,142.80 73,142.80 76,142.80 79,142.80 82,142.80 85,142.80 88,142.80 91,142.80 94,142.80 97,142.79 100,142.79 103,142.79 106,142.79 109,142.79 112,142.78 115,142.77 118,142.74 119.80,142.70 120.05,142.70 120.30,142.69 120.55,142.68 120.80,142.67 121,142.66 121.05,142.66 121.30,142.64 121.55,142.63 121.80,142.61 122.05,142.59 122.30,142.56 122.50,142.54 122.55,142.53 122.75,142.50 122.80,142.49 123,142.44 123.05,142.43 123.25,142.37 123.30,142.35 123.50,142.26 123.55,142.23 123.75,142.09 123.80,142.05 124,141.83 124.05,141.76 124.25,141.44 124.30,141.35 124.50,140.90 124.55,140.77 124.75,140.19 124.80,140.03 125,139.35 125.05,139.18 125.25,138.47 125.30,138.30 125.50,137.72 125.55,137.60 125.75,137.31 125.80,137.29 126,137.40 126.05,137.47 126.25,137.88 126.30,138.01 126.50,138.52 126.55,138.65 126.75,139.09 126.80,139.18 127,139.42 127.05,139.45 127.25,139.44 127.30,139.40 127.50,139.13 127.55,139.03 127.75,138.56 127.80,138.42 128,137.87 128.05,137.74 128.25,137.30 128.30,137.22 128.50,137.10 128.55,137.12 128.75,137.41 128.80,137.53 129,138.13 129.05,138.31 129.25,139.04 129.30,139.22 129.50,139.93 129.55,140.09 129.75,140.69 129.80,140.83 130,141.29 130.05,141.39 130.25,141.73 130.30,141.80 130.50,142.02 130.55,142.07 130.75,142.22 130.80,142.25 131,142.34 131.05,142.36 131.25,142.42 131.30,142.44 131.50,142.48 131.55,142.49 131.75,142.52 131.80,142.53 132,142.56 132.25,142.58 132.50,142.61 132.75,142.62 133,142.64 133.25,142.66 133.50,142.67 133.75,142.68 134,142.69 134.25,142.70 134.50,142.70 136,142.74 139,142.76 142,142.78 145,142.78 148,142.79 151,142.79 154,142.79 157,142.79 160,142.80 163,142.80 166,142.80 169,142.80 172,142.80 175,142.80 178,142.80 181,142.80 184,142.80 185,142.80" fill="none" stroke="#626262" stroke-width="1.45" stroke-linejoin="round"/>
<rect x="84.60" y="141.70" width="4.2" height="2.2" fill="#fff" fill-opacity="0.45"/><path d="M84.60,139.40 C85.50,139.50 86.20,140.30 85.80,141.20 L84.80,142.80 C84.30,143.80 84.50,145.20 85.90,145.70" fill="none" stroke="#1e1e1e" stroke-width="1.15" stroke-linecap="round"/><path d="M87.70,139.40 C88.60,139.50 89.30,140.30 88.90,141.20 L87.90,142.80 C87.40,143.80 87.60,145.20 89.00,145.70" fill="none" stroke="#1e1e1e" stroke-width="1.15" stroke-linecap="round"/>
<text x="7.9" y="153.38" font-size="10.4" fill="#2b2b2b" stroke="#2b2b2b" stroke-width="0.22" textLength="12.3" lengthAdjust="spacingAndGlyphs">2.1</text>
<polyline points="22,153.88 25,153.88 28,153.88 31,153.88 34,153.88 37,153.87 40,153.87 43,153.86 44.30,153.86 44.55,153.85 44.80,153.85 45.05,153.85 45.30,153.85 45.55,153.84 45.80,153.84 46,153.83 46.05,153.83 46.30,153.83 46.55,153.82 46.80,153.81 47.05,153.80 47.30,153.79 47.55,153.77 47.80,153.75 48.05,153.72 48.30,153.68 48.55,153.63 48.80,153.53 49,153.38 49.05,153.33 49.30,152.89 49.55,151.96 49.80,150.43 50.05,148.61 50.30,147.68 50.55,148.61 50.80,150.43 51.05,151.96 51.30,152.89 51.55,153.33 51.80,153.53 52,153.61 52.05,153.63 52.30,153.68 52.55,153.72 52.80,153.75 53.05,153.77 53.30,153.79 53.55,153.80 53.80,153.81 54.05,153.82 54.30,153.83 54.55,153.83 54.80,153.84 55,153.84 55.05,153.84 55.30,153.85 55.55,153.85 55.80,153.85 56.05,153.85 56.30,153.86 58,153.86 61,153.87 64,153.87 67,153.88 70,153.88 73,153.88 76,153.88 79,153.88 82,153.88 85,153.88 88,153.88 91,153.88 94,153.88 97,153.87 100,153.87 103,153.87 106,153.87 109,153.87 112,153.86 115,153.85 118,153.83 120.31,153.78 120.56,153.78 120.81,153.77 121,153.76 121.06,153.76 121.31,153.75 121.56,153.74 121.81,153.72 122.06,153.71 122.31,153.69 122.56,153.66 122.81,153.64 122.82,153.64 123.06,153.60 123.07,153.60 123.31,153.56 123.32,153.56 123.56,153.51 123.57,153.50 123.81,153.43 123.82,153.42 124,153.34 124.06,153.31 124.07,153.30 124.31,153.12 124.32,153.11 124.56,152.84 124.57,152.82 124.81,152.42 124.82,152.40 125.06,151.84 125.07,151.82 125.31,151.10 125.32,151.07 125.56,150.24 125.57,150.21 125.81,149.36 125.82,149.33 126.06,148.65 126.07,148.62 126.31,148.31 126.32,148.31 126.56,148.45 126.57,148.47 126.81,148.94 126.82,148.96 127,149.37 127.06,149.50 127.07,149.52 127.31,149.93 127.32,149.94 127.56,150.08 127.57,150.08 127.81,149.90 127.82,149.89 128.06,149.44 128.07,149.42 128.31,148.84 128.32,148.81 128.56,148.31 128.57,148.29 128.81,148.12 128.82,148.12 129.06,148.43 129.07,148.45 129.31,149.15 129.32,149.19 129.56,150.06 129.57,150.10 129.81,150.96 129.82,150.99 130,151.56 130.06,151.73 130.07,151.76 130.31,152.34 130.32,152.36 130.56,152.78 130.57,152.80 130.81,153.09 130.82,153.09 131.06,153.28 131.07,153.29 131.31,153.41 131.32,153.41 131.56,153.49 131.57,153.50 131.81,153.55 131.82,153.56 132.06,153.60 132.07,153.60 132.31,153.63 132.32,153.63 132.57,153.66 132.82,153.68 133,153.70 133.07,153.70 133.32,153.72 133.57,153.73 133.82,153.75 134.07,153.76 134.32,153.77 134.57,153.77 134.82,153.78 136,153.81 139,153.84 142,153.86 145,153.86 148,153.87 151,153.87 154,153.87 157,153.87 160,153.88 163,153.88 166,153.88 169,153.88 172,153.88 175,153.88 178,153.88 181,153.88 184,153.88 185,153.88" fill="none" stroke="#626262" stroke-width="1.45" stroke-linejoin="round"/>
<rect x="84.60" y="152.78" width="4.2" height="2.2" fill="#fff" fill-opacity="0.45"/><path d="M84.60,150.48 C85.50,150.58 86.20,151.38 85.80,152.28 L84.80,153.88 C84.30,154.88 84.50,156.28 85.90,156.78" fill="none" stroke="#1e1e1e" stroke-width="1.15" stroke-linecap="round"/><path d="M87.70,150.48 C88.60,150.58 89.30,151.38 88.90,152.28 L87.90,153.88 C87.40,154.88 87.60,156.28 89.00,156.78" fill="none" stroke="#1e1e1e" stroke-width="1.15" stroke-linecap="round"/>
<text x="7.9" y="164.46" font-size="10.4" fill="#2b2b2b" stroke="#2b2b2b" stroke-width="0.22" textLength="12.3" lengthAdjust="spacingAndGlyphs">2.0</text>
<polyline points="22,164.96 25,164.96 28,164.96 31,164.96 34,164.96 37,164.95 40,164.95 43,164.94 44.30,164.94 44.55,164.93 44.80,164.93 45.05,164.93 45.30,164.93 45.55,164.92 45.80,164.92 46,164.91 46.05,164.91 46.30,164.91 46.55,164.90 46.80,164.89 47.05,164.88 47.30,164.87 47.55,164.85 47.80,164.83 48.05,164.80 48.30,164.76 48.55,164.71 48.80,164.61 49,164.46 49.05,164.41 49.30,163.97 49.55,163.04 49.80,161.51 50.05,159.69 50.30,158.76 50.55,159.69 50.80,161.51 51.05,163.04 51.30,163.97 51.55,164.41 51.80,164.61 52,164.69 52.05,164.71 52.30,164.76 52.55,164.80 52.80,164.83 53.05,164.85 53.30,164.87 53.55,164.88 53.80,164.89 54.05,164.90 54.30,164.91 54.55,164.91 54.80,164.92 55,164.92 55.05,164.92 55.30,164.93 55.55,164.93 55.80,164.93 56.05,164.93 56.30,164.94 58,164.94 61,164.95 64,164.95 67,164.96 70,164.96 73,164.96 76,164.96 79,164.96 82,164.96 85,164.96 88,164.96 91,164.96 94,164.95 97,164.95 100,164.95 103,164.95 106,164.95 109,164.94 112,164.94 115,164.93 118,164.90 120.86,164.84 121,164.84 121.11,164.83 121.36,164.82 121.61,164.81 121.86,164.80 122.11,164.78 122.36,164.77 122.61,164.75 122.86,164.73 123.02,164.71 123.11,164.70 123.27,164.68 123.36,164.67 123.52,164.64 123.61,164.63 123.77,164.60 123.86,164.58 124,164.54 124.02,164.53 124.11,164.51 124.27,164.45 124.36,164.41 124.52,164.32 124.61,164.27 124.77,164.13 124.86,164.04 125.02,163.84 125.11,163.70 125.27,163.40 125.36,163.20 125.52,162.79 125.61,162.51 125.77,161.97 125.86,161.63 126.02,160.99 126.11,160.60 126.27,159.92 126.36,159.55 126.52,158.95 126.61,158.67 126.77,158.32 126.86,158.22 127,158.20 127.02,158.21 127.11,158.28 127.27,158.52 127.36,158.68 127.52,158.97 127.61,159.11 127.77,159.29 127.86,159.34 128.02,159.32 128.11,159.25 128.27,159.03 128.36,158.87 128.52,158.54 128.61,158.36 128.77,158.11 128.86,158.03 129.02,158.05 129.11,158.16 129.27,158.52 129.36,158.81 129.52,159.43 129.61,159.81 129.77,160.52 129.86,160.91 130,161.49 130.02,161.57 130.11,161.92 130.27,162.47 130.36,162.75 130.52,163.18 130.61,163.38 130.77,163.69 130.86,163.83 131.02,164.03 131.11,164.12 131.27,164.26 131.36,164.32 131.52,164.40 131.61,164.44 131.77,164.50 131.86,164.53 132.02,164.57 132.11,164.59 132.27,164.62 132.36,164.64 132.52,164.66 132.61,164.68 132.77,164.70 132.86,164.71 133,164.72 133.02,164.72 133.27,164.75 133.52,164.77 133.77,164.78 134.02,164.80 134.27,164.81 134.52,164.82 134.77,164.83 135.02,164.84 136,164.87 139,164.91 142,164.93 145,164.94 148,164.95 151,164.95 154,164.95 157,164.95 160,164.95 163,164.96 166,164.96 169,164.96 172,164.96 175,164.96 178,164.96 181,164.96 184,164.96 185,164.96" fill="none" stroke="#626262" stroke-width="1.45" stroke-linejoin="round"/>
<rect x="84.60" y="163.86" width="4.2" height="2.2" fill="#fff" fill-opacity="0.45"/><path d="M84.60,161.56 C85.50,161.66 86.20,162.46 85.80,163.36 L84.80,164.96 C84.30,165.96 84.50,167.36 85.90,167.86" fill="none" stroke="#1e1e1e" stroke-width="1.15" stroke-linecap="round"/><path d="M87.70,161.56 C88.60,161.66 89.30,162.46 88.90,163.36 L87.90,164.96 C87.40,165.96 87.60,167.36 89.00,167.86" fill="none" stroke="#1e1e1e" stroke-width="1.15" stroke-linecap="round"/>
<text x="7.9" y="175.54" font-size="10.4" fill="#2b2b2b" stroke="#2b2b2b" stroke-width="0.22" textLength="12.3" lengthAdjust="spacingAndGlyphs">1.9</text>
<polyline points="22,176.04 25,176.04 28,176.04 31,176.04 34,176.04 37,176.03 40,176.03 43,176.02 44.30,176.02 44.55,176.01 44.80,176.01 45.05,176.01 45.30,176.01 45.55,176.00 45.80,176.00 46,175.99 46.05,175.99 46.30,175.99 46.55,175.98 46.80,175.97 47.05,175.96 47.30,175.95 47.55,175.93 47.80,175.91 48.05,175.88 48.30,175.84 48.55,175.79 48.80,175.69 49,175.54 49.05,175.49 49.30,175.05 49.55,174.12 49.80,172.59 50.05,170.77 50.30,169.84 50.55,170.77 50.80,172.59 51.05,174.12 51.30,175.05 51.55,175.49 51.80,175.69 52,175.77 52.05,175.79 52.30,175.84 52.55,175.88 52.80,175.91 53.05,175.93 53.30,175.95 53.55,175.96 53.80,175.97 54.05,175.98 54.30,175.99 54.55,175.99 54.80,176.00 55,176.00 55.05,176.00 55.30,176.01 55.55,176.01 55.80,176.01 56.05,176.01 56.30,176.02 58,176.02 61,176.03 64,176.03 67,176.04 70,176.04 73,176.04 76,176.04 79,176.04 82,176.04 85,176.04 88,176.04 91,176.04 94,176.04 97,176.03 100,176.03 103,176.03 106,176.03 109,176.03 112,176.02 115,176.01 118,175.99 121,175.94 121.46,175.93 121.71,175.92 121.96,175.91 122.21,175.90 122.46,175.88 122.71,175.87 122.96,175.85 123.21,175.83 123.24,175.83 123.46,175.81 123.49,175.81 123.71,175.79 123.74,175.78 123.96,175.75 123.99,175.75 124,175.75 124.21,175.72 124.24,175.71 124.46,175.67 124.49,175.66 124.71,175.60 124.74,175.59 124.96,175.51 124.99,175.50 125.21,175.37 125.24,175.35 125.46,175.16 125.49,175.13 125.71,174.84 125.74,174.79 125.96,174.37 125.99,174.30 126.21,173.72 126.24,173.63 126.46,172.88 126.49,172.77 126.71,171.89 126.74,171.77 126.96,170.85 126.99,170.73 127,170.69 127.21,169.93 127.24,169.84 127.46,169.34 127.49,169.30 127.71,169.18 127.74,169.18 127.96,169.29 127.99,169.31 128.21,169.42 128.24,169.42 128.46,169.40 128.49,169.38 128.71,169.22 128.74,169.20 128.96,169.05 128.99,169.04 129.21,169.13 129.24,169.17 129.46,169.66 129.49,169.75 129.71,170.56 129.74,170.69 129.96,171.63 129.99,171.76 130,171.80 130.21,172.66 130.24,172.78 130.46,173.55 130.49,173.65 130.71,174.25 130.74,174.32 130.96,174.76 130.99,174.81 131.21,175.10 131.24,175.14 131.46,175.33 131.49,175.36 131.71,175.48 131.74,175.50 131.96,175.58 131.99,175.59 132.21,175.65 132.24,175.66 132.46,175.71 132.49,175.71 132.71,175.75 132.74,175.75 132.96,175.78 132.99,175.78 133,175.78 133.21,175.81 133.24,175.81 133.46,175.83 133.49,175.83 133.74,175.85 133.99,175.87 134.24,175.88 134.49,175.90 134.74,175.91 134.99,175.92 135.24,175.93 136,175.95 139,175.99 142,176.01 145,176.02 148,176.03 151,176.03 154,176.03 157,176.03 160,176.03 163,176.04 166,176.04 169,176.04 172,176.04 175,176.04 178,176.04 181,176.04 184,176.04 185,176.04" fill="none" stroke="#626262" stroke-width="1.45" stroke-linejoin="round"/>
<rect x="84.60" y="174.94" width="4.2" height="2.2" fill="#fff" fill-opacity="0.45"/><path d="M84.60,172.64 C85.50,172.74 86.20,173.54 85.80,174.44 L84.80,176.04 C84.30,177.04 84.50,178.44 85.90,178.94" fill="none" stroke="#1e1e1e" stroke-width="1.15" stroke-linecap="round"/><path d="M87.70,172.64 C88.60,172.74 89.30,173.54 88.90,174.44 L87.90,176.04 C87.40,177.04 87.60,178.44 89.00,178.94" fill="none" stroke="#1e1e1e" stroke-width="1.15" stroke-linecap="round"/>
<text x="7.9" y="186.62" font-size="10.4" fill="#2b2b2b" stroke="#2b2b2b" stroke-width="0.22" textLength="12.3" lengthAdjust="spacingAndGlyphs">1.8</text>
<polyline points="22,187.12 25,187.12 28,187.12 31,187.12 34,187.12 37,187.11 40,187.11 43,187.10 44.30,187.10 44.55,187.09 44.80,187.09 45.05,187.09 45.30,187.09 45.55,187.08 45.80,187.08 46,187.07 46.05,187.07 46.30,187.07 46.55,187.06 46.80,187.05 47.05,187.04 47.30,187.03 47.55,187.01 47.80,186.99 48.05,186.96 48.30,186.92 48.55,186.87 48.80,186.77 49,186.62 49.05,186.57 49.30,186.13 49.55,185.20 49.80,183.67 50.05,181.85 50.30,180.92 50.55,181.85 50.80,183.67 51.05,185.20 51.30,186.13 51.55,186.57 51.80,186.77 52,186.85 52.05,186.87 52.30,186.92 52.55,186.96 52.80,186.99 53.05,187.01 53.30,187.03 53.55,187.04 53.80,187.05 54.05,187.06 54.30,187.07 54.55,187.07 54.80,187.08 55,187.08 55.05,187.08 55.30,187.09 55.55,187.09 55.80,187.09 56.05,187.09 56.30,187.10 58,187.10 61,187.11 64,187.11 67,187.12 70,187.12 73,187.12 76,187.12 79,187.12 82,187.12 85,187.12 88,187.12 91,187.12 94,187.12 97,187.11 100,187.11 103,187.11 106,187.11 109,187.11 112,187.10 115,187.09 118,187.08 121,187.04 121.98,187.01 122.23,187.00 122.48,186.99 122.73,186.98 122.98,186.97 123.23,186.95 123.48,186.94 123.53,186.93 123.73,186.92 123.78,186.92 123.98,186.90 124,186.90 124.03,186.89 124.23,186.87 124.28,186.87 124.48,186.84 124.53,186.83 124.73,186.80 124.78,186.79 124.98,186.75 125.03,186.74 125.23,186.69 125.28,186.67 125.48,186.60 125.53,186.58 125.73,186.46 125.78,186.43 125.98,186.26 126.03,186.21 126.23,185.95 126.28,185.87 126.48,185.49 126.53,185.38 126.73,184.86 126.78,184.71 126.98,184.04 127,183.96 127.03,183.85 127.23,183.06 127.28,182.85 127.48,182.01 127.53,181.81 127.73,181.06 127.78,180.90 127.98,180.39 128.03,180.31 128.23,180.10 128.28,180.08 128.48,180.05 128.53,180.05 128.73,180.05 128.78,180.04 128.98,179.99 129.03,179.98 129.23,179.97 129.28,179.98 129.48,180.17 129.53,180.25 129.73,180.76 129.78,180.92 129.98,181.69 130,181.77 130.03,181.90 130.23,182.76 130.28,182.97 130.48,183.78 130.53,183.97 130.73,184.66 130.78,184.81 130.98,185.35 131.03,185.46 131.23,185.85 131.28,185.93 131.48,186.19 131.53,186.25 131.73,186.42 131.78,186.46 131.98,186.57 132.03,186.59 132.23,186.67 132.28,186.69 132.48,186.74 132.53,186.75 132.73,186.79 132.78,186.80 132.98,186.83 133,186.83 133.03,186.84 133.23,186.86 133.28,186.87 133.48,186.89 133.53,186.90 133.73,186.91 133.78,186.92 133.98,186.93 134.03,186.94 134.28,186.95 134.53,186.97 134.78,186.98 135.03,186.99 135.28,187.00 135.53,187.01 136,187.02 139,187.07 142,187.09 145,187.10 148,187.11 151,187.11 154,187.11 157,187.11 160,187.11 163,187.12 166,187.12 169,187.12 172,187.12 175,187.12 178,187.12 181,187.12 184,187.12 185,187.12" fill="none" stroke="#626262" stroke-width="1.45" stroke-linejoin="round"/>
<rect x="84.60" y="186.02" width="4.2" height="2.2" fill="#fff" fill-opacity="0.45"/><path d="M84.60,183.72 C85.50,183.82 86.20,184.62 85.80,185.52 L84.80,187.12 C84.30,188.12 84.50,189.52 85.90,190.02" fill="none" stroke="#1e1e1e" stroke-width="1.15" stroke-linecap="round"/><path d="M87.70,183.72 C88.60,183.82 89.30,184.62 88.90,185.52 L87.90,187.12 C87.40,188.12 87.60,189.52 89.00,190.02" fill="none" stroke="#1e1e1e" stroke-width="1.15" stroke-linecap="round"/>
<text x="7.9" y="197.70" font-size="10.4" fill="#2b2b2b" stroke="#2b2b2b" stroke-width="0.22" textLength="12.3" lengthAdjust="spacingAndGlyphs">1.7</text>
<polyline points="22,198.20 25,198.20 28,198.20 31,198.20 34,198.20 37,198.19 40,198.19 43,198.18 44.30,198.18 44.55,198.17 44.80,198.17 45.05,198.17 45.30,198.17 45.55,198.16 45.80,198.16 46,198.15 46.05,198.15 46.30,198.15 46.55,198.14 46.80,198.13 47.05,198.12 47.30,198.11 47.55,198.09 47.80,198.07 48.05,198.04 48.30,198.00 48.55,197.95 48.80,197.85 49,197.70 49.05,197.65 49.30,197.21 49.55,196.28 49.80,194.75 50.05,192.93 50.30,192.00 50.55,192.93 50.80,194.75 51.05,196.28 51.30,197.21 51.55,197.65 51.80,197.85 52,197.93 52.05,197.95 52.30,198.00 52.55,198.04 52.80,198.07 53.05,198.09 53.30,198.11 53.55,198.12 53.80,198.13 54.05,198.14 54.30,198.15 54.55,198.15 54.80,198.16 55,198.16 55.05,198.16 55.30,198.17 55.55,198.17 55.80,198.17 56.05,198.17 56.30,198.18 58,198.18 61,198.19 64,198.19 67,198.20 70,198.20 73,198.20 76,198.20 79,198.20 82,198.20 85,198.20 88,198.20 91,198.20 94,198.20 97,198.20 100,198.19 103,198.19 106,198.19 109,198.19 112,198.18 115,198.18 118,198.16 121,198.13 122.81,198.09 123.06,198.08 123.31,198.07 123.56,198.06 123.81,198.05 123.82,198.05 124,198.04 124.06,198.03 124.07,198.03 124.31,198.02 124.32,198.01 124.56,198.00 124.57,198.00 124.81,197.97 124.82,197.97 125.06,197.95 125.07,197.95 125.31,197.91 125.32,197.91 125.56,197.87 125.57,197.87 125.81,197.82 125.82,197.82 126.06,197.76 126.07,197.76 126.31,197.67 126.32,197.66 126.56,197.53 126.57,197.52 126.81,197.32 126.82,197.31 127,197.09 127.06,197.00 127.07,196.99 127.31,196.54 127.32,196.51 127.56,195.87 127.57,195.84 127.81,194.99 127.82,194.95 128.06,193.90 128.07,193.85 128.31,192.66 128.32,192.61 128.56,191.45 128.57,191.40 128.81,190.47 128.82,190.44 129.06,189.88 129.07,189.86 129.31,189.67 129.32,189.67 129.56,189.81 129.57,189.83 129.81,190.36 129.82,190.39 130,191.05 130.06,191.31 130.07,191.36 130.31,192.53 130.32,192.58 130.56,193.78 130.57,193.83 130.81,194.90 130.82,194.94 131.06,195.80 131.07,195.84 131.31,196.49 131.32,196.51 131.56,196.97 131.57,196.99 131.81,197.30 131.82,197.31 132.06,197.52 132.07,197.52 132.31,197.66 132.32,197.66 132.56,197.75 132.57,197.76 132.81,197.82 132.82,197.82 133,197.86 133.06,197.87 133.07,197.87 133.31,197.91 133.32,197.91 133.56,197.94 133.57,197.94 133.81,197.97 133.82,197.97 134.06,197.99 134.07,197.99 134.31,198.01 134.32,198.01 134.56,198.03 134.57,198.03 134.81,198.05 134.82,198.05 135.07,198.06 135.32,198.07 135.57,198.08 135.82,198.09 136,198.10 139,198.15 142,198.17 145,198.18 148,198.19 151,198.19 154,198.19 157,198.19 160,198.19 163,198.20 166,198.20 169,198.20 172,198.20 175,198.20 178,198.20 181,198.20 184,198.20 185,198.20" fill="none" stroke="#626262" stroke-width="1.45" stroke-linejoin="round"/>
<rect x="84.60" y="197.10" width="4.2" height="2.2" fill="#fff" fill-opacity="0.45"/><path d="M84.60,194.80 C85.50,194.90 86.20,195.70 85.80,196.60 L84.80,198.20 C84.30,199.20 84.50,200.60 85.90,201.10" fill="none" stroke="#1e1e1e" stroke-width="1.15" stroke-linecap="round"/><path d="M87.70,194.80 C88.60,194.90 89.30,195.70 88.90,196.60 L87.90,198.20 C87.40,199.20 87.60,200.60 89.00,201.10" fill="none" stroke="#1e1e1e" stroke-width="1.15" stroke-linecap="round"/>
<text x="7.9" y="208.78" font-size="10.4" fill="#2b2b2b" stroke="#2b2b2b" stroke-width="0.22" textLength="12.3" lengthAdjust="spacingAndGlyphs">1.6</text>
<polyline points="22,209.28 25,209.28 28,209.28 31,209.28 34,209.28 37,209.27 40,209.27 43,209.26 44.30,209.26 44.55,209.25 44.80,209.25 45.05,209.25 45.30,209.25 45.55,209.24 45.80,209.24 46,209.23 46.05,209.23 46.30,209.23 46.55,209.22 46.80,209.21 47.05,209.20 47.30,209.19 47.55,209.17 47.80,209.15 48.05,209.12 48.30,209.08 48.55,209.03 48.80,208.93 49,208.78 49.05,208.73 49.30,208.29 49.55,207.36 49.80,205.83 50.05,204.01 50.30,203.08 50.55,204.01 50.80,205.83 51.05,207.36 51.30,208.29 51.55,208.73 51.80,208.93 52,209.01 52.05,209.03 52.30,209.08 52.55,209.12 52.80,209.15 53.05,209.17 53.30,209.19 53.55,209.20 53.80,209.21 54.05,209.22 54.30,209.23 54.55,209.23 54.80,209.24 55,209.24 55.05,209.24 55.30,209.25 55.55,209.25 55.80,209.25 56.05,209.25 56.30,209.26 58,209.26 61,209.27 64,209.27 67,209.28 70,209.28 73,209.28 76,209.28 79,209.28 82,209.28 85,209.28 88,209.28 91,209.28 94,209.28 97,209.28 100,209.27 103,209.27 106,209.27 109,209.27 112,209.27 115,209.26 118,209.25 121,209.22 123.83,209.16 123.88,209.16 124,209.16 124.08,209.15 124.13,209.15 124.33,209.14 124.38,209.14 124.58,209.13 124.63,209.12 124.83,209.11 124.88,209.11 125.08,209.09 125.13,209.09 125.33,209.07 125.38,209.07 125.58,209.05 125.63,209.05 125.83,209.02 125.88,209.02 126.08,208.99 126.13,208.98 126.33,208.95 126.38,208.94 126.58,208.90 126.63,208.89 126.83,208.84 126.88,208.82 127,208.78 127.08,208.75 127.13,208.73 127.33,208.63 127.38,208.60 127.58,208.45 127.63,208.40 127.83,208.15 127.88,208.07 128.08,207.67 128.13,207.55 128.33,206.93 128.38,206.74 128.58,205.85 128.63,205.58 128.83,204.39 128.88,204.06 129.08,202.63 129.13,202.25 129.33,200.76 129.38,200.41 129.58,199.20 129.63,198.98 129.83,198.49 129.88,198.49 130,198.69 130.08,198.96 130.13,199.19 130.33,200.39 130.38,200.74 130.58,202.23 130.63,202.61 130.83,204.04 130.88,204.37 131.08,205.57 131.13,205.83 131.33,206.73 131.38,206.92 131.58,207.54 131.63,207.66 131.83,208.07 131.88,208.15 132.08,208.40 132.13,208.44 132.33,208.60 132.38,208.63 132.58,208.73 132.63,208.75 132.83,208.82 132.88,208.84 133,208.87 133.08,208.89 133.13,208.90 133.33,208.94 133.38,208.95 133.58,208.98 133.63,208.99 133.83,209.02 133.88,209.02 134.08,209.05 134.13,209.05 134.33,209.07 134.38,209.07 134.58,209.09 134.63,209.09 134.83,209.11 134.88,209.11 135.08,209.12 135.13,209.13 135.33,209.14 135.38,209.14 135.58,209.15 135.63,209.15 135.83,209.16 135.88,209.16 136,209.17 139,209.23 142,209.25 145,209.26 148,209.27 151,209.27 154,209.27 157,209.27 160,209.28 163,209.28 166,209.28 169,209.28 172,209.28 175,209.28 178,209.28 181,209.28 184,209.28 185,209.28" fill="none" stroke="#626262" stroke-width="1.45" stroke-linejoin="round"/>
<rect x="84.60" y="208.18" width="4.2" height="2.2" fill="#fff" fill-opacity="0.45"/><path d="M84.60,205.88 C85.50,205.98 86.20,206.78 85.80,207.68 L84.80,209.28 C84.30,210.28 84.50,211.68 85.90,212.18" fill="none" stroke="#1e1e1e" stroke-width="1.15" stroke-linecap="round"/><path d="M87.70,205.88 C88.60,205.98 89.30,206.78 88.90,207.68 L87.90,209.28 C87.40,210.28 87.60,211.68 89.00,212.18" fill="none" stroke="#1e1e1e" stroke-width="1.15" stroke-linecap="round"/>
<text x="7.9" y="219.86" font-size="10.4" fill="#2b2b2b" stroke="#2b2b2b" stroke-width="0.22" textLength="12.3" lengthAdjust="spacingAndGlyphs">1.5</text>
<polyline points="22,220.36 25,220.36 28,220.36 31,220.36 34,220.36 37,220.35 40,220.35 43,220.34 44.30,220.34 44.55,220.33 44.80,220.33 45.05,220.33 45.30,220.33 45.55,220.32 45.80,220.32 46,220.31 46.05,220.31 46.30,220.31 46.55,220.30 46.80,220.29 47.05,220.28 47.30,220.27 47.55,220.25 47.80,220.23 48.05,220.20 48.30,220.16 48.55,220.11 48.80,220.01 49,219.86 49.05,219.81 49.30,219.37 49.55,218.44 49.80,216.91 50.05,215.09 50.30,214.16 50.55,215.09 50.80,216.91 51.05,218.44 51.30,219.37 51.55,219.81 51.80,220.01 52,220.09 52.05,220.11 52.30,220.16 52.55,220.20 52.80,220.23 53.05,220.25 53.30,220.27 53.55,220.28 53.80,220.29 54.05,220.30 54.30,220.31 54.55,220.31 54.80,220.32 55,220.32 55.05,220.32 55.30,220.33 55.55,220.33 55.80,220.33 56.05,220.33 56.30,220.34 58,220.35 61,220.35 64,220.35 67,220.36 70,220.36 73,220.36 76,220.36 79,220.36 82,220.36 85,220.36 88,220.36 91,220.36 94,220.36 97,220.36 100,220.36 103,220.35 106,220.35 109,220.35 112,220.35 115,220.34 118,220.33 121,220.31 124,220.26 124.28,220.25 124.39,220.25 124.53,220.24 124.64,220.24 124.78,220.23 124.89,220.23 125.03,220.22 125.14,220.22 125.28,220.21 125.39,220.20 125.53,220.19 125.64,220.19 125.78,220.18 125.89,220.17 126.03,220.15 126.14,220.14 126.28,220.13 126.39,220.12 126.53,220.10 126.64,220.08 126.78,220.06 126.89,220.04 127,220.02 127.03,220.02 127.14,220.00 127.28,219.96 127.39,219.94 127.53,219.89 127.64,219.86 127.78,219.80 127.89,219.75 128.03,219.67 128.14,219.59 128.28,219.47 128.39,219.34 128.53,219.12 128.64,218.90 128.78,218.51 128.89,218.12 129.03,217.48 129.14,216.84 129.28,215.85 129.39,214.92 129.53,213.56 129.64,212.39 129.78,210.82 129.89,209.60 130,208.48 130.03,208.21 130.14,207.36 130.28,206.77 130.39,206.77 130.53,207.34 130.64,208.18 130.78,209.57 130.89,210.79 131.03,212.36 131.14,213.53 131.28,214.89 131.39,215.82 131.53,216.82 131.64,217.46 131.78,218.11 131.89,218.51 132.03,218.89 132.14,219.12 132.28,219.34 132.39,219.47 132.53,219.59 132.64,219.67 132.78,219.75 132.89,219.80 133,219.85 133.03,219.86 133.14,219.89 133.28,219.93 133.39,219.96 133.53,220.00 133.64,220.02 133.78,220.04 133.89,220.06 134.03,220.08 134.14,220.10 134.28,220.12 134.39,220.13 134.53,220.14 134.64,220.15 134.78,220.17 134.89,220.18 135.03,220.19 135.14,220.19 135.28,220.20 135.39,220.21 135.53,220.22 135.64,220.22 135.78,220.23 135.89,220.23 136,220.24 136.03,220.24 136.14,220.24 136.28,220.25 136.39,220.25 139,220.31 142,220.33 145,220.34 148,220.35 151,220.35 154,220.35 157,220.35 160,220.36 163,220.36 166,220.36 169,220.36 172,220.36 175,220.36 178,220.36 181,220.36 184,220.36 185,220.36" fill="none" stroke="#626262" stroke-width="1.45" stroke-linejoin="round"/>
<rect x="84.60" y="219.26" width="4.2" height="2.2" fill="#fff" fill-opacity="0.45"/><path d="M84.60,216.96 C85.50,217.06 86.20,217.86 85.80,218.76 L84.80,220.36 C84.30,221.36 84.50,222.76 85.90,223.26" fill="none" stroke="#1e1e1e" stroke-width="1.15" stroke-linecap="round"/><path d="M87.70,216.96 C88.60,217.06 89.30,217.86 88.90,218.76 L87.90,220.36 C87.40,221.36 87.60,222.76 89.00,223.26" fill="none" stroke="#1e1e1e" stroke-width="1.15" stroke-linecap="round"/>
<text x="7.9" y="230.94" font-size="10.4" fill="#2b2b2b" stroke="#2b2b2b" stroke-width="0.22" textLength="12.3" lengthAdjust="spacingAndGlyphs">1.4</text>
<polyline points="22,231.44 25,231.44 28,231.44 31,231.44 34,231.44 37,231.43 40,231.43 43,231.42 44.30,231.42 44.55,231.41 44.80,231.41 45.05,231.41 45.30,231.41 45.55,231.40 45.80,231.40 46,231.39 46.05,231.39 46.30,231.39 46.55,231.38 46.80,231.37 47.05,231.36 47.30,231.35 47.55,231.33 47.80,231.31 48.05,231.28 48.30,231.24 48.55,231.19 48.80,231.09 49,230.94 49.05,230.89 49.30,230.45 49.55,229.52 49.80,227.99 50.05,226.17 50.30,225.24 50.55,226.17 50.80,227.99 51.05,229.52 51.30,230.45 51.55,230.89 51.80,231.09 52,231.17 52.05,231.19 52.30,231.24 52.55,231.28 52.80,231.31 53.05,231.33 53.30,231.35 53.55,231.36 53.80,231.37 54.05,231.38 54.30,231.39 54.55,231.39 54.80,231.40 55,231.40 55.05,231.40 55.30,231.41 55.55,231.41 55.80,231.41 56.05,231.41 56.30,231.42 58,231.43 61,231.43 64,231.43 67,231.44 70,231.44 73,231.44 76,231.44 79,231.44 82,231.44 85,231.44 88,231.44 91,231.44 94,231.44 97,231.44 100,231.44 103,231.43 106,231.43 109,231.43 112,231.43 115,231.42 118,231.42 121,231.40 124,231.36 124.82,231.33 124.87,231.33 125.07,231.32 125.12,231.32 125.32,231.31 125.37,231.31 125.57,231.30 125.62,231.30 125.82,231.29 125.87,231.28 126.07,231.27 126.12,231.27 126.32,231.25 126.37,231.25 126.57,231.23 126.62,231.23 126.82,231.21 126.87,231.20 127,231.18 127.07,231.18 127.12,231.17 127.32,231.14 127.37,231.13 127.57,231.09 127.62,231.08 127.82,231.04 127.87,231.02 128.07,230.97 128.12,230.95 128.32,230.87 128.37,230.85 128.57,230.74 128.62,230.70 128.82,230.52 128.87,230.46 129.07,230.16 129.12,230.05 129.32,229.51 129.37,229.33 129.57,228.42 129.62,228.13 129.82,226.71 129.87,226.29 130,225.08 130.07,224.36 130.12,223.82 130.32,221.58 130.37,221.02 130.57,219.02 130.62,218.62 130.82,217.76 130.87,217.76 131.07,218.58 131.12,218.96 131.32,220.95 131.37,221.51 131.57,223.75 131.62,224.29 131.82,226.24 131.87,226.66 132.07,228.09 132.12,228.38 132.32,229.31 132.37,229.49 132.57,230.04 132.62,230.14 132.82,230.46 132.87,230.51 133,230.64 133.07,230.70 133.12,230.73 133.32,230.85 133.37,230.87 133.57,230.95 133.62,230.96 133.82,231.02 133.87,231.04 134.07,231.08 134.12,231.09 134.32,231.13 134.37,231.14 134.57,231.17 134.62,231.17 134.82,231.20 134.87,231.21 135.07,231.23 135.12,231.23 135.32,231.25 135.37,231.25 135.57,231.27 135.62,231.27 135.82,231.28 135.87,231.29 136,231.29 136.07,231.30 136.12,231.30 136.32,231.31 136.37,231.31 136.57,231.32 136.62,231.32 136.82,231.33 136.87,231.33 139,231.38 142,231.41 145,231.42 148,231.43 151,231.43 154,231.43 157,231.43 160,231.44 163,231.44 166,231.44 169,231.44 172,231.44 175,231.44 178,231.44 181,231.44 184,231.44 185,231.44" fill="none" stroke="#626262" stroke-width="1.45" stroke-linejoin="round"/>
<rect x="84.60" y="230.34" width="4.2" height="2.2" fill="#fff" fill-opacity="0.45"/><path d="M84.60,228.04 C85.50,228.14 86.20,228.94 85.80,229.84 L84.80,231.44 C84.30,232.44 84.50,233.84 85.90,234.34" fill="none" stroke="#1e1e1e" stroke-width="1.15" stroke-linecap="round"/><path d="M87.70,228.04 C88.60,228.14 89.30,228.94 88.90,229.84 L87.90,231.44 C87.40,232.44 87.60,233.84 89.00,234.34" fill="none" stroke="#1e1e1e" stroke-width="1.15" stroke-linecap="round"/>
<text x="7.9" y="242.02" font-size="10.4" fill="#2b2b2b" stroke="#2b2b2b" stroke-width="0.22" textLength="12.3" lengthAdjust="spacingAndGlyphs">1.3</text>
<polyline points="22,242.52 25,242.52 28,242.52 31,242.52 34,242.52 37,242.51 40,242.51 43,242.50 44.30,242.50 44.55,242.49 44.80,242.49 45.05,242.49 45.30,242.49 45.55,242.48 45.80,242.48 46,242.47 46.05,242.47 46.30,242.47 46.55,242.46 46.80,242.45 47.05,242.44 47.30,242.43 47.55,242.41 47.80,242.39 48.05,242.36 48.30,242.32 48.55,242.27 48.80,242.17 49,242.02 49.05,241.97 49.30,241.53 49.55,240.60 49.80,239.07 50.05,237.25 50.30,236.32 50.55,237.25 50.80,239.07 51.05,240.60 51.30,241.53 51.55,241.97 51.80,242.17 52,242.25 52.05,242.27 52.30,242.32 52.55,242.36 52.80,242.39 53.05,242.41 53.30,242.43 53.55,242.44 53.80,242.45 54.05,242.46 54.30,242.47 54.55,242.47 54.80,242.48 55,242.48 55.05,242.48 55.30,242.49 55.55,242.49 55.80,242.49 56.05,242.49 56.30,242.50 58,242.51 61,242.51 64,242.51 67,242.52 70,242.52 73,242.52 76,242.52 79,242.52 82,242.52 85,242.52 88,242.52 91,242.52 94,242.52 97,242.52 100,242.52 103,242.52 106,242.51 109,242.51 112,242.51 115,242.51 118,242.50 121,242.49 124,242.46 125.16,242.43 125.41,242.43 125.66,242.42 125.88,242.41 125.91,242.41 126.13,242.40 126.16,242.40 126.38,242.39 126.41,242.39 126.63,242.37 126.66,242.37 126.88,242.36 126.91,242.36 127,242.35 127.13,242.34 127.16,242.34 127.38,242.32 127.41,242.32 127.63,242.29 127.66,242.29 127.88,242.26 127.91,242.26 128.13,242.22 128.16,242.22 128.38,242.17 128.41,242.17 128.63,242.11 128.66,242.10 128.88,242.02 128.91,242.01 129.13,241.88 129.16,241.86 129.38,241.66 129.41,241.63 129.63,241.30 129.66,241.24 129.88,240.71 129.91,240.62 130,240.32 130.13,239.81 130.16,239.68 130.38,238.57 130.41,238.40 130.63,237.02 130.66,236.82 130.88,235.36 130.91,235.17 131.13,233.99 131.16,233.86 131.38,233.25 131.41,233.21 131.63,233.24 131.66,233.28 131.88,233.94 131.91,234.07 132.13,235.28 132.16,235.47 132.38,236.92 132.41,237.12 132.63,238.48 132.66,238.65 132.88,239.74 132.91,239.87 133,240.22 133.13,240.65 133.16,240.74 133.38,241.26 133.41,241.32 133.63,241.64 133.66,241.67 133.88,241.87 133.91,241.89 134.13,242.01 134.16,242.02 134.38,242.10 134.41,242.11 134.63,242.17 134.66,242.18 134.88,242.22 134.91,242.22 135.13,242.26 135.16,242.26 135.38,242.29 135.41,242.29 135.63,242.32 135.66,242.32 135.88,242.34 135.91,242.34 136,242.35 136.13,242.36 136.16,242.36 136.38,242.37 136.41,242.38 136.63,242.39 136.66,242.39 136.88,242.40 136.91,242.40 137.13,242.41 137.16,242.41 137.38,242.42 137.63,242.43 137.88,242.43 139,242.46 142,242.49 145,242.50 148,242.51 151,242.51 154,242.51 157,242.51 160,242.52 163,242.52 166,242.52 169,242.52 172,242.52 175,242.52 178,242.52 181,242.52 184,242.52 185,242.52" fill="none" stroke="#626262" stroke-width="1.45" stroke-linejoin="round"/>
<rect x="84.60" y="241.42" width="4.2" height="2.2" fill="#fff" fill-opacity="0.45"/><path d="M84.60,239.12 C85.50,239.22 86.20,240.02 85.80,240.92 L84.80,242.52 C84.30,243.52 84.50,244.92 85.90,245.42" fill="none" stroke="#1e1e1e" stroke-width="1.15" stroke-linecap="round"/><path d="M87.70,239.12 C88.60,239.22 89.30,240.02 88.90,240.92 L87.90,242.52 C87.40,243.52 87.60,244.92 89.00,245.42" fill="none" stroke="#1e1e1e" stroke-width="1.15" stroke-linecap="round"/>
<text x="7.9" y="253.10" font-size="10.4" fill="#2b2b2b" stroke="#2b2b2b" stroke-width="0.22" textLength="12.3" lengthAdjust="spacingAndGlyphs">1.2</text>
<polyline points="22,253.60 25,253.60 28,253.60 31,253.60 34,253.60 37,253.59 40,253.59 43,253.58 44.30,253.58 44.55,253.57 44.80,253.57 45.05,253.57 45.30,253.57 45.55,253.56 45.80,253.56 46,253.55 46.05,253.55 46.30,253.55 46.55,253.54 46.80,253.53 47.05,253.52 47.30,253.51 47.55,253.49 47.80,253.47 48.05,253.44 48.30,253.40 48.55,253.35 48.80,253.25 49,253.10 49.05,253.05 49.30,252.61 49.55,251.68 49.80,250.15 50.05,248.33 50.30,247.40 50.55,248.33 50.80,250.15 51.05,251.68 51.30,252.61 51.55,253.05 51.80,253.25 52,253.33 52.05,253.35 52.30,253.40 52.55,253.44 52.80,253.47 53.05,253.49 53.30,253.51 53.55,253.52 53.80,253.53 54.05,253.54 54.30,253.55 54.55,253.55 54.80,253.56 55,253.56 55.05,253.56 55.30,253.57 55.55,253.57 55.80,253.57 56.05,253.57 56.30,253.58 58,253.59 61,253.59 64,253.59 67,253.60 70,253.60 73,253.60 76,253.60 79,253.60 82,253.60 85,253.60 88,253.60 91,253.60 94,253.60 97,253.60 100,253.60 103,253.59 106,253.59 109,253.59 112,253.59 115,253.59 118,253.58 121,253.57 124,253.53 125.42,253.50 125.67,253.50 125.92,253.49 126.17,253.48 126.42,253.47 126.67,253.45 126.81,253.45 126.92,253.44 127,253.43 127.06,253.43 127.17,253.42 127.31,253.41 127.42,253.40 127.56,253.39 127.67,253.38 127.81,253.36 127.92,253.35 128.06,253.33 128.17,253.32 128.31,253.29 128.42,253.27 128.56,253.25 128.67,253.22 128.81,253.18 128.92,253.15 129.06,253.10 129.17,253.05 129.31,252.97 129.42,252.89 129.56,252.77 129.67,252.64 129.81,252.43 129.92,252.22 130,252.04 130.06,251.89 130.17,251.56 130.31,251.07 130.42,250.61 130.56,249.94 130.67,249.36 130.81,248.56 130.92,247.92 131.06,247.12 131.17,246.55 131.31,245.97 131.42,245.66 131.56,245.45 131.67,245.41 131.81,245.46 131.92,245.53 132.06,245.59 132.17,245.61 132.31,245.58 132.42,245.55 132.56,245.54 132.67,245.60 132.81,245.83 132.92,246.16 133,246.47 133.06,246.74 133.17,247.30 133.31,248.09 133.42,248.72 133.56,249.49 133.67,250.06 133.81,250.70 133.92,251.15 134.06,251.63 134.17,251.94 134.31,252.26 134.42,252.46 134.56,252.66 134.67,252.79 134.81,252.91 134.92,252.98 135.06,253.06 135.17,253.11 135.31,253.16 135.42,253.19 135.56,253.23 135.67,253.25 135.81,253.28 135.92,253.30 136,253.31 136.06,253.32 136.17,253.33 136.31,253.35 136.42,253.37 136.56,253.38 136.67,253.39 136.81,253.40 136.92,253.41 137.06,253.42 137.17,253.43 137.31,253.44 137.42,253.45 137.56,253.45 137.81,253.47 138.06,253.48 138.31,253.49 138.56,253.50 138.81,253.50 139,253.51 142,253.56 145,253.57 148,253.58 151,253.59 154,253.59 157,253.59 160,253.59 163,253.60 166,253.60 169,253.60 172,253.60 175,253.60 178,253.60 181,253.60 184,253.60 185,253.60" fill="none" stroke="#626262" stroke-width="1.45" stroke-linejoin="round"/>
<rect x="84.60" y="252.50" width="4.2" height="2.2" fill="#fff" fill-opacity="0.45"/><path d="M84.60,250.20 C85.50,250.30 86.20,251.10 85.80,252.00 L84.80,253.60 C84.30,254.60 84.50,256.00 85.90,256.50" fill="none" stroke="#1e1e1e" stroke-width="1.15" stroke-linecap="round"/><path d="M87.70,250.20 C88.60,250.30 89.30,251.10 88.90,252.00 L87.90,253.60 C87.40,254.60 87.60,256.00 89.00,256.50" fill="none" stroke="#1e1e1e" stroke-width="1.15" stroke-linecap="round"/>
<text x="7.9" y="264.18" font-size="10.4" fill="#2b2b2b" stroke="#2b2b2b" stroke-width="0.22" textLength="12.3" lengthAdjust="spacingAndGlyphs">1.1</text>
<polyline points="22,264.68 25,264.68 28,264.68 31,264.68 34,264.68 37,264.67 40,264.67 43,264.66 44.30,264.66 44.55,264.65 44.80,264.65 45.05,264.65 45.30,264.65 45.55,264.64 45.80,264.64 46,264.63 46.05,264.63 46.30,264.63 46.55,264.62 46.80,264.61 47.05,264.60 47.30,264.59 47.55,264.57 47.80,264.55 48.05,264.52 48.30,264.48 48.55,264.43 48.80,264.33 49,264.18 49.05,264.13 49.30,263.69 49.55,262.76 49.80,261.23 50.05,259.41 50.30,258.48 50.55,259.41 50.80,261.23 51.05,262.76 51.30,263.69 51.55,264.13 51.80,264.33 52,264.41 52.05,264.43 52.30,264.48 52.55,264.52 52.80,264.55 53.05,264.57 53.30,264.59 53.55,264.60 53.80,264.61 54.05,264.62 54.30,264.63 54.55,264.63 54.80,264.64 55,264.64 55.05,264.64 55.30,264.65 55.55,264.65 55.80,264.65 56.05,264.65 56.30,264.66 58,264.67 61,264.67 64,264.67 67,264.68 70,264.68 73,264.68 76,264.68 79,264.68 82,264.68 85,264.68 88,264.68 91,264.68 94,264.68 97,264.68 100,264.68 103,264.68 106,264.67 109,264.67 112,264.67 115,264.67 118,264.66 121,264.65 124,264.63 125.86,264.59 126.11,264.58 126.36,264.58 126.61,264.57 126.86,264.56 127,264.55 127.11,264.54 127.36,264.53 127.61,264.52 127.80,264.50 127.86,264.50 128.05,264.48 128.11,264.48 128.30,264.46 128.36,264.45 128.55,264.43 128.61,264.42 128.80,264.39 128.86,264.38 129.05,264.35 129.11,264.33 129.30,264.29 129.36,264.27 129.55,264.21 129.61,264.19 129.80,264.09 129.86,264.05 130,263.94 130.05,263.89 130.11,263.83 130.30,263.56 130.36,263.45 130.55,262.99 130.61,262.81 130.80,262.11 130.86,261.84 131.05,260.86 131.11,260.51 131.30,259.34 131.36,258.97 131.55,257.86 131.61,257.56 131.80,256.93 131.86,256.86 132.05,257.01 132.11,257.17 132.30,257.84 132.36,258.08 132.55,258.75 132.61,258.91 132.80,259.21 132.86,259.22 133,259.10 133.05,259.01 133.11,258.87 133.30,258.27 133.36,258.05 133.55,257.42 133.61,257.28 133.80,257.13 133.86,257.20 134.05,257.80 134.11,258.08 134.30,259.15 134.36,259.51 134.55,260.64 134.61,260.97 134.80,261.92 134.86,262.18 135.05,262.86 135.11,263.04 135.30,263.48 135.36,263.58 135.55,263.85 135.61,263.91 135.80,264.06 135.86,264.10 136,264.17 136.05,264.19 136.11,264.22 136.30,264.28 136.36,264.30 136.55,264.34 136.61,264.35 136.80,264.39 136.86,264.40 137.05,264.42 137.11,264.43 137.30,264.45 137.36,264.46 137.55,264.48 137.61,264.48 137.80,264.50 137.86,264.50 138.05,264.52 138.30,264.53 138.55,264.55 138.80,264.56 139,264.57 139.05,264.57 139.30,264.58 139.55,264.58 139.80,264.59 142,264.63 145,264.65 148,264.66 151,264.67 154,264.67 157,264.67 160,264.67 163,264.68 166,264.68 169,264.68 172,264.68 175,264.68 178,264.68 181,264.68 184,264.68 185,264.68" fill="none" stroke="#626262" stroke-width="1.45" stroke-linejoin="round"/>
<rect x="84.60" y="263.58" width="4.2" height="2.2" fill="#fff" fill-opacity="0.45"/><path d="M84.60,261.28 C85.50,261.38 86.20,262.18 85.80,263.08 L84.80,264.68 C84.30,265.68 84.50,267.08 85.90,267.58" fill="none" stroke="#1e1e1e" stroke-width="1.15" stroke-linecap="round"/><path d="M87.70,261.28 C88.60,261.38 89.30,262.18 88.90,263.08 L87.90,264.68 C87.40,265.68 87.60,267.08 89.00,267.58" fill="none" stroke="#1e1e1e" stroke-width="1.15" stroke-linecap="round"/>
<text x="7.9" y="275.26" font-size="10.4" fill="#2b2b2b" stroke="#2b2b2b" stroke-width="0.22" textLength="12.3" lengthAdjust="spacingAndGlyphs">1.0</text>
<polyline points="22,275.76 25,275.76 28,275.76 31,275.76 34,275.76 37,275.75 40,275.75 43,275.74 44.30,275.74 44.55,275.73 44.80,275.73 45.05,275.73 45.30,275.73 45.55,275.72 45.80,275.72 46,275.71 46.05,275.71 46.30,275.71 46.55,275.70 46.80,275.69 47.05,275.68 47.30,275.67 47.55,275.65 47.80,275.63 48.05,275.60 48.30,275.56 48.55,275.51 48.80,275.41 49,275.26 49.05,275.21 49.30,274.77 49.55,273.84 49.80,272.31 50.05,270.49 50.30,269.56 50.55,270.49 50.80,272.31 51.05,273.84 51.30,274.77 51.55,275.21 51.80,275.41 52,275.49 52.05,275.51 52.30,275.56 52.55,275.60 52.80,275.63 53.05,275.65 53.30,275.67 53.55,275.68 53.80,275.69 54.05,275.70 54.30,275.71 54.55,275.71 54.80,275.72 55,275.72 55.05,275.72 55.30,275.73 55.55,275.73 55.80,275.73 56.05,275.73 56.30,275.74 58,275.75 61,275.75 64,275.75 67,275.76 70,275.76 73,275.76 76,275.76 79,275.76 82,275.76 85,275.76 88,275.76 91,275.76 94,275.76 97,275.76 100,275.76 103,275.76 106,275.76 109,275.75 112,275.75 115,275.75 118,275.75 121,275.74 124,275.72 126.18,275.69 126.43,275.68 126.68,275.68 126.93,275.67 127,275.67 127.18,275.66 127.43,275.66 127.68,275.64 127.93,275.63 128.18,275.62 128.43,275.60 128.68,275.58 128.92,275.56 128.93,275.56 129.17,275.53 129.18,275.53 129.42,275.50 129.43,275.49 129.67,275.45 129.68,275.45 129.92,275.39 129.93,275.38 130,275.36 130.17,275.29 130.18,275.29 130.42,275.14 130.43,275.13 130.67,274.86 130.68,274.85 130.92,274.37 130.93,274.34 131.17,273.56 131.18,273.52 131.42,272.39 131.43,272.34 131.67,270.95 131.68,270.89 131.92,269.59 131.93,269.55 132.17,268.94 132.18,268.93 132.42,269.40 132.43,269.44 132.67,270.62 132.68,270.67 132.92,271.94 132.93,271.99 133,272.31 133.17,272.95 133.18,272.98 133.42,273.46 133.43,273.47 133.67,273.43 133.68,273.42 133.92,272.89 133.93,272.86 134.17,271.91 134.18,271.87 134.42,270.70 134.43,270.65 134.67,269.60 134.68,269.56 134.92,269.15 134.93,269.15 135.17,269.67 135.18,269.71 135.42,270.85 135.43,270.91 135.67,272.18 135.68,272.23 135.92,273.33 135.93,273.37 136,273.63 136.17,274.17 136.18,274.20 136.42,274.72 136.43,274.74 136.67,275.05 136.68,275.06 136.92,275.24 136.93,275.25 137.17,275.36 137.18,275.36 137.42,275.43 137.43,275.43 137.67,275.48 137.68,275.48 137.92,275.52 137.93,275.52 138.17,275.55 138.18,275.55 138.42,275.57 138.67,275.60 138.92,275.61 139,275.62 139.17,275.63 139.42,275.64 139.67,275.65 139.92,275.66 140.17,275.67 140.42,275.68 140.67,275.68 140.92,275.69 142,275.71 145,275.73 148,275.74 151,275.75 154,275.75 157,275.75 160,275.75 163,275.76 166,275.76 169,275.76 172,275.76 175,275.76 178,275.76 181,275.76 184,275.76 185,275.76" fill="none" stroke="#626262" stroke-width="1.45" stroke-linejoin="round"/>
<rect x="84.60" y="274.66" width="4.2" height="2.2" fill="#fff" fill-opacity="0.45"/><path d="M84.60,272.36 C85.50,272.46 86.20,273.26 85.80,274.16 L84.80,275.76 C84.30,276.76 84.50,278.16 85.90,278.66" fill="none" stroke="#1e1e1e" stroke-width="1.15" stroke-linecap="round"/><path d="M87.70,272.36 C88.60,272.46 89.30,273.26 88.90,274.16 L87.90,275.76 C87.40,276.76 87.60,278.16 89.00,278.66" fill="none" stroke="#1e1e1e" stroke-width="1.15" stroke-linecap="round"/>
<text x="7.9" y="286.34" font-size="10.4" fill="#2b2b2b" stroke="#2b2b2b" stroke-width="0.22" textLength="12.3" lengthAdjust="spacingAndGlyphs">0.9</text>
<polyline points="22,286.84 25,286.84 28,286.84 31,286.84 34,286.84 37,286.83 40,286.83 43,286.82 44.30,286.82 44.55,286.81 44.80,286.81 45.05,286.81 45.30,286.81 45.55,286.80 45.80,286.80 46,286.79 46.05,286.79 46.30,286.79 46.55,286.78 46.80,286.77 47.05,286.76 47.30,286.75 47.55,286.73 47.80,286.71 48.05,286.68 48.30,286.64 48.55,286.59 48.80,286.49 49,286.34 49.05,286.29 49.30,285.85 49.55,284.92 49.80,283.39 50.05,281.57 50.30,280.64 50.55,281.57 50.80,283.39 51.05,284.92 51.30,285.85 51.55,286.29 51.80,286.49 52,286.57 52.05,286.59 52.30,286.64 52.55,286.68 52.80,286.71 53.05,286.73 53.30,286.75 53.55,286.76 53.80,286.77 54.05,286.78 54.30,286.79 54.55,286.79 54.80,286.80 55,286.80 55.05,286.80 55.30,286.81 55.55,286.81 55.80,286.81 56.05,286.81 56.30,286.82 58,286.83 61,286.83 64,286.83 67,286.84 70,286.84 73,286.84 76,286.84 79,286.84 82,286.84 85,286.84 88,286.84 91,286.84 94,286.84 97,286.84 100,286.84 103,286.84 106,286.84 109,286.83 112,286.83 115,286.83 118,286.83 121,286.82 124,286.80 126.63,286.77 126.88,286.77 127,286.77 127.13,286.76 127.38,286.76 127.63,286.75 127.88,286.74 128.13,286.73 128.38,286.72 128.63,286.70 128.88,286.69 129.13,286.67 129.38,286.65 129.63,286.62 129.88,286.58 130,286.56 130.07,286.55 130.13,286.53 130.32,286.49 130.38,286.47 130.57,286.40 130.63,286.37 130.82,286.26 130.88,286.21 131.07,286.00 131.13,285.92 131.32,285.55 131.38,285.39 131.57,284.78 131.63,284.54 131.82,283.64 131.88,283.31 132.07,282.18 132.13,281.81 132.32,280.71 132.38,280.42 132.57,279.85 132.63,279.80 132.82,280.13 132.88,280.37 133,280.96 133.07,281.35 133.13,281.71 133.32,282.83 133.38,283.16 133.57,284.10 133.63,284.34 133.82,284.98 133.88,285.13 134.07,285.48 134.13,285.55 134.32,285.66 134.38,285.67 134.57,285.57 134.63,285.50 134.82,285.17 134.88,285.03 135.07,284.42 135.13,284.18 135.32,283.28 135.38,282.95 135.57,281.87 135.63,281.52 135.82,280.56 135.88,280.33 136,280.04 136.07,280.00 136.13,280.04 136.32,280.58 136.38,280.86 136.57,281.92 136.63,282.28 136.82,283.38 136.88,283.70 137.07,284.59 137.13,284.82 137.32,285.42 137.38,285.57 137.57,285.93 137.63,286.02 137.82,286.22 137.88,286.27 138.07,286.38 138.13,286.41 138.32,286.48 138.38,286.49 138.57,286.54 138.63,286.55 138.82,286.59 139,286.61 139.07,286.62 139.32,286.65 139.57,286.67 139.82,286.69 140.07,286.71 140.32,286.72 140.57,286.73 140.82,286.74 141.07,286.75 141.32,286.76 141.57,286.76 141.82,286.77 142,286.77 142.07,286.77 145,286.81 148,286.82 151,286.83 154,286.83 157,286.83 160,286.83 163,286.84 166,286.84 169,286.84 172,286.84 175,286.84 178,286.84 181,286.84 184,286.84 185,286.84" fill="none" stroke="#626262" stroke-width="1.45" stroke-linejoin="round"/>
<rect x="84.60" y="285.74" width="4.2" height="2.2" fill="#fff" fill-opacity="0.45"/><path d="M84.60,283.44 C85.50,283.54 86.20,284.34 85.80,285.24 L84.80,286.84 C84.30,287.84 84.50,289.24 85.90,289.74" fill="none" stroke="#1e1e1e" stroke-width="1.15" stroke-linecap="round"/><path d="M87.70,283.44 C88.60,283.54 89.30,284.34 88.90,285.24 L87.90,286.84 C87.40,287.84 87.60,289.24 89.00,289.74" fill="none" stroke="#1e1e1e" stroke-width="1.15" stroke-linecap="round"/>
<text x="7.9" y="297.42" font-size="10.4" fill="#2b2b2b" stroke="#2b2b2b" stroke-width="0.22" textLength="12.3" lengthAdjust="spacingAndGlyphs">0.8</text>
<polyline points="22,297.92 25,297.92 28,297.92 31,297.92 34,297.92 37,297.91 40,297.91 43,297.90 44.30,297.90 44.55,297.89 44.80,297.89 45.05,297.89 45.30,297.89 45.55,297.88 45.80,297.88 46,297.87 46.05,297.87 46.30,297.87 46.55,297.86 46.80,297.85 47.05,297.84 47.30,297.83 47.55,297.81 47.80,297.79 48.05,297.76 48.30,297.72 48.55,297.67 48.80,297.57 49,297.42 49.05,297.37 49.30,296.93 49.55,296.00 49.80,294.47 50.05,292.65 50.30,291.72 50.55,292.65 50.80,294.47 51.05,296.00 51.30,296.93 51.55,297.37 51.80,297.57 52,297.65 52.05,297.67 52.30,297.72 52.55,297.76 52.80,297.79 53.05,297.81 53.30,297.83 53.55,297.84 53.80,297.85 54.05,297.86 54.30,297.87 54.55,297.87 54.80,297.88 55,297.88 55.05,297.88 55.30,297.89 55.55,297.89 55.80,297.89 56.05,297.89 56.30,297.90 58,297.91 61,297.91 64,297.91 67,297.92 70,297.92 73,297.92 76,297.92 79,297.92 82,297.92 85,297.92 88,297.92 91,297.92 94,297.92 97,297.92 100,297.92 103,297.92 106,297.92 109,297.91 112,297.91 115,297.91 118,297.91 121,297.90 124,297.89 127,297.86 127.08,297.86 127.33,297.85 127.58,297.85 127.83,297.84 128.08,297.83 128.33,297.82 128.58,297.82 128.83,297.80 129.08,297.79 129.33,297.78 129.58,297.76 129.83,297.74 130,297.72 130.08,297.71 130.33,297.67 130.58,297.63 130.83,297.57 131.08,297.49 131.33,297.34 131.42,297.27 131.58,297.08 131.67,296.94 131.83,296.59 131.92,296.32 132.08,295.71 132.17,295.29 132.33,294.37 132.42,293.78 132.58,292.64 132.67,292.00 132.83,290.97 132.92,290.55 133,290.31 133.08,290.22 133.17,290.32 133.33,290.95 133.42,291.49 133.58,292.60 133.67,293.24 133.83,294.30 133.92,294.83 134.08,295.62 134.17,295.97 134.33,296.46 134.42,296.66 134.58,296.92 134.67,297.02 134.83,297.13 134.92,297.18 135.08,297.22 135.17,297.22 135.33,297.21 135.42,297.20 135.58,297.13 135.67,297.07 135.83,296.92 135.92,296.80 136,296.66 136.08,296.49 136.17,296.27 136.33,295.74 136.42,295.37 136.58,294.58 136.67,294.07 136.83,293.07 136.92,292.49 137.08,291.50 137.17,291.04 137.33,290.51 137.42,290.43 137.58,290.72 137.67,291.10 137.83,292.00 137.92,292.58 138.08,293.62 138.17,294.18 138.33,295.07 138.42,295.49 138.58,296.12 138.67,296.40 138.83,296.79 138.92,296.96 139,297.08 139.08,297.18 139.17,297.27 139.42,297.44 139.67,297.54 139.92,297.61 140.17,297.66 140.42,297.69 140.67,297.72 140.92,297.75 141.17,297.77 141.42,297.78 141.67,297.80 141.92,297.81 142,297.81 142.17,297.82 142.42,297.83 142.67,297.84 142.92,297.84 143.17,297.85 143.42,297.85 145,297.88 148,297.90 151,297.90 154,297.91 157,297.91 160,297.91 163,297.92 166,297.92 169,297.92 172,297.92 175,297.92 178,297.92 181,297.92 184,297.92 185,297.92" fill="none" stroke="#626262" stroke-width="1.45" stroke-linejoin="round"/>
<rect x="84.60" y="296.82" width="4.2" height="2.2" fill="#fff" fill-opacity="0.45"/><path d="M84.60,294.52 C85.50,294.62 86.20,295.42 85.80,296.32 L84.80,297.92 C84.30,298.92 84.50,300.32 85.90,300.82" fill="none" stroke="#1e1e1e" stroke-width="1.15" stroke-linecap="round"/><path d="M87.70,294.52 C88.60,294.62 89.30,295.42 88.90,296.32 L87.90,297.92 C87.40,298.92 87.60,300.32 89.00,300.82" fill="none" stroke="#1e1e1e" stroke-width="1.15" stroke-linecap="round"/>
<text x="7.9" y="308.50" font-size="10.4" fill="#2b2b2b" stroke="#2b2b2b" stroke-width="0.22" textLength="12.3" lengthAdjust="spacingAndGlyphs">0.7</text>
<polyline points="22,309.00 25,309.00 28,309.00 31,309.00 34,309.00 37,308.99 40,308.99 43,308.98 44.30,308.98 44.55,308.97 44.80,308.97 45.05,308.97 45.30,308.97 45.55,308.96 45.80,308.96 46,308.95 46.05,308.95 46.30,308.95 46.55,308.94 46.80,308.93 47.05,308.92 47.30,308.91 47.55,308.89 47.80,308.87 48.05,308.84 48.30,308.80 48.55,308.75 48.80,308.65 49,308.51 49.05,308.45 49.30,308.01 49.55,307.08 49.80,305.55 50.05,303.73 50.30,302.80 50.55,303.73 50.80,305.55 51.05,307.08 51.30,308.01 51.55,308.45 51.80,308.65 52,308.73 52.05,308.75 52.30,308.80 52.55,308.84 52.80,308.87 53.05,308.89 53.30,308.91 53.55,308.92 53.80,308.93 54.05,308.94 54.30,308.95 54.55,308.95 54.80,308.96 55,308.96 55.05,308.96 55.30,308.97 55.55,308.97 55.80,308.97 56.05,308.97 56.30,308.98 58,308.99 61,308.99 64,308.99 67,309.00 70,309.00 73,309.00 76,309.00 79,309.00 82,309.00 85,309.00 88,309.00 91,309.00 94,309.00 97,309.00 100,309.00 103,309.00 106,309.00 109,309.00 112,308.99 115,308.99 118,308.99 121,308.98 124,308.97 127,308.95 127.56,308.94 127.81,308.94 128.06,308.93 128.31,308.93 128.56,308.92 128.81,308.91 129.06,308.90 129.31,308.89 129.56,308.88 129.81,308.87 130,308.86 130.06,308.85 130.31,308.83 130.56,308.81 130.81,308.77 131.06,308.73 131.31,308.68 131.56,308.60 131.81,308.46 132.06,308.22 132.31,307.75 132.56,306.93 132.73,306.11 132.81,305.65 132.98,304.57 133,304.43 133.06,304.02 133.23,302.90 133.31,302.44 133.48,301.81 133.56,301.73 133.73,302.07 133.81,302.43 133.98,303.46 134.06,303.99 134.23,305.13 134.31,305.62 134.48,306.52 134.56,306.87 134.73,307.47 134.81,307.68 134.98,308.02 135.06,308.13 135.23,308.30 135.31,308.36 135.48,308.44 135.56,308.47 135.73,308.50 135.81,308.52 135.98,308.53 136,308.53 136.06,308.53 136.23,308.53 136.31,308.52 136.48,308.50 136.56,308.48 136.73,308.43 136.81,308.40 136.98,308.29 137.06,308.22 137.23,308.01 137.31,307.88 137.48,307.50 137.56,307.27 137.73,306.65 137.81,306.29 137.98,305.41 138.06,304.95 138.23,303.91 138.31,303.42 138.48,302.53 138.56,302.22 138.73,301.94 138.81,302.01 138.98,302.56 139,302.65 139.06,302.95 139.23,303.95 139.31,304.45 139.48,305.47 139.56,305.90 139.73,306.71 139.98,307.57 140.23,308.10 140.48,308.39 140.73,308.55 140.98,308.65 141.23,308.71 141.48,308.76 141.73,308.79 141.98,308.82 142,308.82 142.23,308.84 142.48,308.86 142.73,308.87 142.98,308.89 143.23,308.90 143.48,308.91 143.73,308.92 143.98,308.92 144.23,308.93 144.48,308.93 144.73,308.94 145,308.94 148,308.97 151,308.98 154,308.99 157,308.99 160,308.99 163,309.00 166,309.00 169,309.00 172,309.00 175,309.00 178,309.00 181,309.00 184,309.00 185,309.00" fill="none" stroke="#626262" stroke-width="1.45" stroke-linejoin="round"/>
<rect x="84.60" y="307.90" width="4.2" height="2.2" fill="#fff" fill-opacity="0.45"/><path d="M84.60,305.60 C85.50,305.70 86.20,306.50 85.80,307.40 L84.80,309.00 C84.30,310.00 84.50,311.40 85.90,311.90" fill="none" stroke="#1e1e1e" stroke-width="1.15" stroke-linecap="round"/><path d="M87.70,305.60 C88.60,305.70 89.30,306.50 88.90,307.40 L87.90,309.00 C87.40,310.00 87.60,311.40 89.00,311.90" fill="none" stroke="#1e1e1e" stroke-width="1.15" stroke-linecap="round"/>
<text x="7.9" y="319.58" font-size="10.4" fill="#2b2b2b" stroke="#2b2b2b" stroke-width="0.22" textLength="12.3" lengthAdjust="spacingAndGlyphs">0.6</text>
<polyline points="22,320.08 25,320.08 28,320.08 31,320.08 34,320.08 37,320.07 40,320.07 43,320.06 44.30,320.06 44.55,320.05 44.80,320.05 45.05,320.05 45.30,320.05 45.55,320.04 45.80,320.04 46,320.03 46.05,320.03 46.30,320.03 46.55,320.02 46.80,320.01 47.05,320.00 47.30,319.99 47.55,319.97 47.80,319.95 48.05,319.92 48.30,319.88 48.55,319.83 48.80,319.73 49,319.58 49.05,319.53 49.30,319.09 49.55,318.16 49.80,316.63 50.05,314.81 50.30,313.88 50.55,314.81 50.80,316.63 51.05,318.16 51.30,319.09 51.55,319.53 51.80,319.73 52,319.81 52.05,319.83 52.30,319.88 52.55,319.92 52.80,319.95 53.05,319.97 53.30,319.99 53.55,320.00 53.80,320.01 54.05,320.02 54.30,320.03 54.55,320.03 54.80,320.04 55,320.04 55.05,320.04 55.30,320.05 55.55,320.05 55.80,320.05 56.05,320.05 56.30,320.06 58,320.07 61,320.07 64,320.07 67,320.08 70,320.08 73,320.08 76,320.08 79,320.08 82,320.08 85,320.08 88,320.08 91,320.08 94,320.08 97,320.08 100,320.08 103,320.08 106,320.08 109,320.08 112,320.07 115,320.07 118,320.07 121,320.06 124,320.06 127,320.03 128.01,320.02 128.26,320.01 128.51,320.01 128.76,320.00 129.01,320.00 129.26,319.99 129.51,319.98 129.76,319.97 130,319.96 130.01,319.96 130.26,319.94 130.51,319.92 130.76,319.90 131.01,319.88 131.26,319.84 131.51,319.80 131.76,319.74 132.01,319.65 132.26,319.51 132.51,319.24 132.76,318.73 133,317.88 133.01,317.84 133.26,316.46 133.51,314.69 133.76,312.98 134.01,312.23 134.14,312.45 134.26,313.00 134.39,313.83 134.51,314.70 134.64,315.65 134.76,316.46 134.89,317.23 135.01,317.82 135.14,318.33 135.26,318.70 135.39,318.99 135.51,319.19 135.64,319.34 135.76,319.44 135.89,319.52 136,319.57 136.01,319.57 136.14,319.62 136.26,319.64 136.39,319.67 136.51,319.68 136.64,319.70 136.76,319.71 136.89,319.71 137.01,319.71 137.14,319.71 137.26,319.71 137.39,319.70 137.51,319.69 137.64,319.67 137.76,319.65 137.89,319.62 138.01,319.58 138.14,319.53 138.26,319.46 138.39,319.36 138.51,319.24 138.64,319.05 138.76,318.82 138.89,318.48 139,318.12 139.01,318.09 139.14,317.55 139.26,316.95 139.39,316.20 139.51,315.43 139.64,314.56 139.76,313.78 139.89,313.06 140.01,312.61 140.14,312.43 140.39,313.11 140.64,314.63 140.89,316.27 141.14,317.61 141.39,318.55 141.64,319.11 141.89,319.43 142,319.52 142.14,319.60 142.39,319.71 142.64,319.77 142.89,319.82 143.14,319.86 143.39,319.89 143.64,319.91 143.89,319.93 144.14,319.95 144.39,319.96 144.64,319.97 144.89,319.98 145,319.99 145.14,319.99 145.39,320.00 145.64,320.00 145.89,320.01 146.14,320.02 148,320.04 151,320.06 154,320.07 157,320.07 160,320.07 163,320.07 166,320.08 169,320.08 172,320.08 175,320.08 178,320.08 181,320.08 184,320.08 185,320.08" fill="none" stroke="#626262" stroke-width="1.45" stroke-linejoin="round"/>
<rect x="84.60" y="318.98" width="4.2" height="2.2" fill="#fff" fill-opacity="0.45"/><path d="M84.60,316.68 C85.50,316.78 86.20,317.58 85.80,318.48 L84.80,320.08 C84.30,321.08 84.50,322.48 85.90,322.98" fill="none" stroke="#1e1e1e" stroke-width="1.15" stroke-linecap="round"/><path d="M87.70,316.68 C88.60,316.78 89.30,317.58 88.90,318.48 L87.90,320.08 C87.40,321.08 87.60,322.48 89.00,322.98" fill="none" stroke="#1e1e1e" stroke-width="1.15" stroke-linecap="round"/>
<text x="7.9" y="330.66" font-size="10.4" fill="#2b2b2b" stroke="#2b2b2b" stroke-width="0.22" textLength="12.3" lengthAdjust="spacingAndGlyphs">0.5</text>
<polyline points="22,331.16 25,331.16 28,331.16 31,331.16 34,331.16 37,331.15 40,331.15 43,331.14 44.30,331.14 44.55,331.13 44.80,331.13 45.05,331.13 45.30,331.13 45.55,331.12 45.80,331.12 46,331.11 46.05,331.11 46.30,331.11 46.55,331.10 46.80,331.09 47.05,331.08 47.30,331.07 47.55,331.05 47.80,331.03 48.05,331.00 48.30,330.96 48.55,330.91 48.80,330.81 49,330.66 49.05,330.61 49.30,330.17 49.55,329.24 49.80,327.71 50.05,325.89 50.30,324.96 50.55,325.89 50.80,327.71 51.05,329.24 51.30,330.17 51.55,330.61 51.80,330.81 52,330.89 52.05,330.91 52.30,330.96 52.55,331.00 52.80,331.03 53.05,331.05 53.30,331.07 53.55,331.08 53.80,331.09 54.05,331.10 54.30,331.11 54.55,331.11 54.80,331.12 55,331.12 55.05,331.12 55.30,331.13 55.55,331.13 55.80,331.13 56.05,331.13 56.30,331.14 58,331.15 61,331.15 64,331.15 67,331.16 70,331.16 73,331.16 76,331.16 79,331.16 82,331.16 85,331.16 88,331.16 91,331.16 94,331.16 97,331.16 100,331.16 103,331.16 106,331.16 109,331.16 112,331.15 115,331.15 118,331.15 121,331.15 124,331.14 127,331.12 128.52,331.10 128.77,331.10 129.02,331.09 129.27,331.09 129.52,331.08 129.77,331.07 130,331.06 130.02,331.06 130.27,331.05 130.52,331.04 130.77,331.03 131.02,331.01 131.27,330.99 131.52,330.96 131.77,330.93 132.02,330.88 132.27,330.83 132.52,330.74 132.77,330.60 133,330.36 133.02,330.33 133.27,329.82 133.52,328.93 133.77,327.56 134.02,325.79 134.27,324.09 134.52,323.32 134.77,324.08 135.02,325.78 135.27,327.54 135.52,328.91 135.67,329.50 135.77,329.80 135.92,330.13 136,330.27 136.02,330.30 136.17,330.47 136.27,330.55 136.42,330.65 136.52,330.69 136.67,330.74 136.77,330.77 136.92,330.80 137.02,330.82 137.17,330.84 137.27,330.85 137.42,330.86 137.52,330.87 137.67,330.88 137.77,330.88 137.92,330.89 138.02,330.89 138.17,330.89 138.27,330.88 138.42,330.88 138.52,330.87 138.67,330.86 138.77,330.85 138.92,330.84 139,330.83 139.02,330.82 139.17,330.80 139.27,330.78 139.42,330.74 139.52,330.71 139.67,330.65 139.77,330.59 139.92,330.48 140.02,330.37 140.17,330.16 140.27,329.98 140.42,329.60 140.52,329.28 140.67,328.67 140.92,327.33 141.17,325.70 141.42,324.19 141.67,323.53 141.92,324.17 142,324.60 142.17,325.68 142.42,327.32 142.67,328.67 142.92,329.61 143.17,330.19 143.42,330.51 143.67,330.69 143.92,330.79 144.17,330.86 144.42,330.90 144.67,330.94 144.92,330.97 145,330.98 145.17,330.99 145.42,331.01 145.67,331.03 145.92,331.04 146.17,331.05 146.42,331.06 146.67,331.07 146.92,331.08 147.17,331.09 147.42,331.09 147.67,331.10 148,331.10 151,331.13 154,331.14 157,331.15 160,331.15 163,331.15 166,331.15 169,331.16 172,331.16 175,331.16 178,331.16 181,331.16 184,331.16 185,331.16" fill="none" stroke="#626262" stroke-width="1.45" stroke-linejoin="round"/>
<rect x="84.60" y="330.06" width="4.2" height="2.2" fill="#fff" fill-opacity="0.45"/><path d="M84.60,327.76 C85.50,327.86 86.20,328.66 85.80,329.56 L84.80,331.16 C84.30,332.16 84.50,333.56 85.90,334.06" fill="none" stroke="#1e1e1e" stroke-width="1.15" stroke-linecap="round"/><path d="M87.70,327.76 C88.60,327.86 89.30,328.66 88.90,329.56 L87.90,331.16 C87.40,332.16 87.60,333.56 89.00,334.06" fill="none" stroke="#1e1e1e" stroke-width="1.15" stroke-linecap="round"/>
<text x="7.9" y="341.74" font-size="10.4" fill="#2b2b2b" stroke="#2b2b2b" stroke-width="0.22" textLength="12.3" lengthAdjust="spacingAndGlyphs">0.4</text>
<polyline points="22,342.24 25,342.24 28,342.24 31,342.24 34,342.24 37,342.23 40,342.23 43,342.22 44.30,342.22 44.55,342.21 44.80,342.21 45.05,342.21 45.30,342.21 45.55,342.20 45.80,342.20 46,342.19 46.05,342.19 46.30,342.19 46.55,342.18 46.80,342.17 47.05,342.16 47.30,342.15 47.55,342.13 47.80,342.11 48.05,342.08 48.30,342.04 48.55,341.99 48.80,341.89 49,341.75 49.05,341.69 49.30,341.25 49.55,340.32 49.80,338.79 50.05,336.97 50.30,336.04 50.55,336.97 50.80,338.79 51.05,340.32 51.30,341.25 51.55,341.69 51.80,341.89 52,341.97 52.05,341.99 52.30,342.04 52.55,342.08 52.80,342.11 53.05,342.13 53.30,342.15 53.55,342.16 53.80,342.17 54.05,342.18 54.30,342.19 54.55,342.19 54.80,342.20 55,342.20 55.05,342.20 55.30,342.21 55.55,342.21 55.80,342.21 56.05,342.21 56.30,342.22 58,342.23 61,342.23 64,342.23 67,342.24 70,342.24 73,342.24 76,342.24 79,342.24 82,342.24 85,342.24 88,342.24 91,342.24 94,342.24 97,342.24 100,342.24 103,342.24 106,342.24 109,342.24 112,342.23 115,342.23 118,342.23 121,342.23 124,342.22 127,342.21 129.03,342.18 129.28,342.18 129.53,342.18 129.78,342.17 130,342.16 130.03,342.16 130.28,342.16 130.53,342.15 130.78,342.14 131.03,342.13 131.28,342.11 131.53,342.09 131.78,342.07 132.03,342.05 132.28,342.01 132.53,341.97 132.78,341.92 133,341.85 133.03,341.84 133.28,341.71 133.53,341.48 133.78,341.01 134.03,340.11 134.28,338.61 134.53,336.53 134.78,334.41 135.03,333.41 135.28,334.38 135.53,336.49 135.78,338.57 136,339.93 136.03,340.08 136.28,340.98 136.53,341.45 136.78,341.68 137.03,341.81 137.28,341.88 137.34,341.90 137.53,341.93 137.59,341.94 137.78,341.97 137.84,341.98 138.03,342.00 138.09,342.00 138.28,342.01 138.34,342.02 138.53,342.03 138.59,342.03 138.78,342.03 138.84,342.04 139,342.04 139.03,342.04 139.09,342.04 139.28,342.04 139.34,342.04 139.53,342.03 139.59,342.03 139.78,342.02 139.84,342.02 140.03,342.01 140.09,342.00 140.28,341.99 140.34,341.98 140.53,341.96 140.59,341.95 140.78,341.92 140.84,341.91 141.03,341.86 141.09,341.84 141.34,341.74 141.59,341.57 141.84,341.25 142,340.92 142.09,340.68 142.34,339.74 142.59,338.39 142.84,336.75 143.09,335.25 143.34,334.62 143.59,335.29 143.84,336.81 144.09,338.44 144.34,339.79 144.59,340.72 144.84,341.28 145,341.51 145.09,341.60 145.34,341.77 145.59,341.88 145.84,341.94 146.09,341.99 146.34,342.03 146.59,342.05 146.84,342.08 147.09,342.10 147.34,342.11 147.59,342.13 147.84,342.14 148,342.14 148.09,342.15 148.34,342.16 148.59,342.16 148.84,342.17 149.09,342.17 149.34,342.18 151,342.20 154,342.22 157,342.23 160,342.23 163,342.23 166,342.23 169,342.24 172,342.24 175,342.24 178,342.24 181,342.24 184,342.24 185,342.24" fill="none" stroke="#626262" stroke-width="1.45" stroke-linejoin="round"/>
<rect x="84.60" y="341.14" width="4.2" height="2.2" fill="#fff" fill-opacity="0.45"/><path d="M84.60,338.84 C85.50,338.94 86.20,339.74 85.80,340.64 L84.80,342.24 C84.30,343.24 84.50,344.64 85.90,345.14" fill="none" stroke="#1e1e1e" stroke-width="1.15" stroke-linecap="round"/><path d="M87.70,338.84 C88.60,338.94 89.30,339.74 88.90,340.64 L87.90,342.24 C87.40,343.24 87.60,344.64 89.00,345.14" fill="none" stroke="#1e1e1e" stroke-width="1.15" stroke-linecap="round"/>
<text x="7.9" y="352.82" font-size="10.4" fill="#2b2b2b" stroke="#2b2b2b" stroke-width="0.22" textLength="12.3" lengthAdjust="spacingAndGlyphs">0.3</text>
<polyline points="22,353.32 25,353.32 28,353.32 31,353.32 34,353.32 37,353.31 40,353.31 43,353.30 44.30,353.30 44.55,353.29 44.80,353.29 45.05,353.29 45.30,353.29 45.55,353.28 45.80,353.28 46,353.27 46.05,353.27 46.30,353.27 46.55,353.26 46.80,353.25 47.05,353.24 47.30,353.23 47.55,353.21 47.80,353.19 48.05,353.16 48.30,353.12 48.55,353.07 48.80,352.97 49,352.83 49.05,352.77 49.30,352.33 49.55,351.40 49.80,349.87 50.05,348.05 50.30,347.12 50.55,348.05 50.80,349.87 51.05,351.40 51.30,352.33 51.55,352.77 51.80,352.97 52,353.05 52.05,353.07 52.30,353.12 52.55,353.16 52.80,353.19 53.05,353.21 53.30,353.23 53.55,353.24 53.80,353.25 54.05,353.26 54.30,353.27 54.55,353.27 54.80,353.28 55,353.28 55.05,353.28 55.30,353.29 55.55,353.29 55.80,353.29 56.05,353.29 56.30,353.30 58,353.31 61,353.31 64,353.31 67,353.32 70,353.32 73,353.32 76,353.32 79,353.32 82,353.32 85,353.32 88,353.32 91,353.32 94,353.32 97,353.32 100,353.32 103,353.32 106,353.32 109,353.32 112,353.31 115,353.31 118,353.31 121,353.31 124,353.30 127,353.29 129.58,353.27 129.83,353.26 130,353.26 130.08,353.26 130.33,353.25 130.58,353.25 130.83,353.24 131.08,353.23 131.33,353.22 131.58,353.21 131.83,353.19 132.08,353.18 132.33,353.16 132.58,353.13 132.83,353.10 133,353.07 133.08,353.06 133.33,353.00 133.58,352.92 133.83,352.80 134.08,352.59 134.33,352.16 134.58,351.25 134.83,349.58 135.08,347.08 135.33,344.38 135.58,343.10 135.83,344.45 136,346.27 136.08,347.16 136.33,349.64 136.58,351.28 136.83,352.16 137.08,352.59 137.33,352.79 137.58,352.91 137.83,352.98 138.08,353.03 138.33,353.07 138.58,353.10 138.83,353.12 139,353.13 139.08,353.14 139.26,353.14 139.33,353.15 139.51,353.15 139.58,353.16 139.76,353.16 139.83,353.16 140.01,353.16 140.08,353.16 140.26,353.16 140.33,353.16 140.51,353.16 140.58,353.16 140.76,353.16 140.83,353.16 141.01,353.15 141.08,353.15 141.26,353.14 141.33,353.14 141.51,353.13 141.58,353.13 141.76,353.12 142,353.10 142.01,353.09 142.26,353.07 142.51,353.03 142.76,352.98 143.01,352.91 143.26,352.79 143.51,352.59 143.76,352.22 144.01,351.61 144.26,350.68 144.51,349.40 144.76,347.93 145,346.67 145.01,346.63 145.26,346.10 145.51,346.67 145.76,347.98 146.01,349.45 146.26,350.72 146.51,351.65 146.76,352.25 147.01,352.61 147.26,352.81 147.51,352.93 147.76,353.00 148,353.05 148.01,353.06 148.26,353.09 148.51,353.13 148.76,353.15 149.01,353.17 149.26,353.19 149.51,353.20 149.76,353.21 150.01,353.22 150.26,353.23 150.51,353.24 150.76,353.25 151,353.25 151.01,353.25 151.26,353.26 154,353.29 157,353.30 160,353.31 163,353.31 166,353.31 169,353.31 172,353.32 175,353.32 178,353.32 181,353.32 184,353.32 185,353.32" fill="none" stroke="#626262" stroke-width="1.45" stroke-linejoin="round"/>
<rect x="84.60" y="352.22" width="4.2" height="2.2" fill="#fff" fill-opacity="0.45"/><path d="M84.60,349.92 C85.50,350.02 86.20,350.82 85.80,351.72 L84.80,353.32 C84.30,354.32 84.50,355.72 85.90,356.22" fill="none" stroke="#1e1e1e" stroke-width="1.15" stroke-linecap="round"/><path d="M87.70,349.92 C88.60,350.02 89.30,350.82 88.90,351.72 L87.90,353.32 C87.40,354.32 87.60,355.72 89.00,356.22" fill="none" stroke="#1e1e1e" stroke-width="1.15" stroke-linecap="round"/>
<text x="7.9" y="363.90" font-size="10.4" fill="#2b2b2b" stroke="#2b2b2b" stroke-width="0.22" textLength="12.3" lengthAdjust="spacingAndGlyphs">0.2</text>
<polyline points="22,364.40 25,364.40 28,364.40 31,364.40 34,364.40 37,364.39 40,364.39 43,364.38 44.30,364.38 44.55,364.37 44.80,364.37 45.05,364.37 45.30,364.37 45.55,364.36 45.80,364.36 46,364.35 46.05,364.35 46.30,364.35 46.55,364.34 46.80,364.33 47.05,364.32 47.30,364.31 47.55,364.29 47.80,364.27 48.05,364.24 48.30,364.20 48.55,364.15 48.80,364.05 49,363.91 49.05,363.85 49.30,363.41 49.55,362.48 49.80,360.95 50.05,359.13 50.30,358.20 50.55,359.13 50.80,360.95 51.05,362.48 51.30,363.41 51.55,363.85 51.80,364.05 52,364.13 52.05,364.15 52.30,364.20 52.55,364.24 52.80,364.27 53.05,364.29 53.30,364.31 53.55,364.32 53.80,364.33 54.05,364.34 54.30,364.35 54.55,364.35 54.80,364.36 55,364.36 55.05,364.36 55.30,364.37 55.55,364.37 55.80,364.37 56.05,364.37 56.30,364.38 58,364.39 61,364.39 64,364.39 67,364.40 70,364.40 73,364.40 76,364.40 79,364.40 82,364.40 85,364.40 88,364.40 91,364.40 94,364.40 97,364.40 100,364.40 103,364.40 106,364.40 109,364.40 112,364.40 115,364.39 118,364.39 121,364.39 124,364.39 127,364.38 130,364.35 130.18,364.35 130.43,364.34 130.68,364.34 130.93,364.33 131.18,364.33 131.43,364.32 131.68,364.31 131.93,364.30 132.18,364.29 132.43,364.28 132.68,364.26 132.93,364.24 133,364.23 133.18,364.21 133.43,364.18 133.68,364.14 133.93,364.08 134.18,364.01 134.43,363.89 134.68,363.69 134.93,363.26 135.18,362.37 135.43,360.73 135.68,358.25 135.93,355.54 136,354.93 136.18,354.18 136.43,355.46 136.68,358.16 136.93,360.66 137.18,362.33 137.43,363.23 137.68,363.67 137.93,363.88 138.18,363.99 138.43,364.07 138.68,364.12 138.93,364.16 139,364.17 139.18,364.19 139.43,364.22 139.68,364.23 139.93,364.25 140.18,364.26 140.43,364.27 140.68,364.28 140.93,364.28 141.18,364.28 141.21,364.28 141.43,364.28 141.46,364.28 141.68,364.28 141.71,364.28 141.93,364.28 141.96,364.28 142,364.28 142.18,364.28 142.21,364.28 142.46,364.28 142.71,364.27 142.96,364.26 143.21,364.25 143.46,364.24 143.71,364.22 143.96,364.20 144.21,364.17 144.46,364.14 144.71,364.09 144.96,364.03 145,364.01 145.21,363.93 145.46,363.75 145.71,363.43 145.96,362.86 146.21,361.92 146.46,360.57 146.71,358.93 146.96,357.43 147.21,356.79 147.46,357.45 147.71,358.96 147.96,360.60 148,360.84 148.21,361.95 148.46,362.88 148.71,363.45 148.96,363.76 149.21,363.94 149.46,364.04 149.71,364.11 149.96,364.15 150.21,364.19 150.46,364.22 150.71,364.24 150.96,364.26 151,364.26 151.21,364.28 151.46,364.29 151.71,364.30 151.96,364.31 152.21,364.32 152.46,364.33 152.71,364.33 152.96,364.34 153.21,364.34 154,364.35 157,364.38 160,364.39 163,364.39 166,364.39 169,364.39 172,364.40 175,364.40 178,364.40 181,364.40 184,364.40 185,364.40" fill="none" stroke="#626262" stroke-width="1.45" stroke-linejoin="round"/>
<rect x="84.60" y="363.30" width="4.2" height="2.2" fill="#fff" fill-opacity="0.45"/><path d="M84.60,361.00 C85.50,361.10 86.20,361.90 85.80,362.80 L84.80,364.40 C84.30,365.40 84.50,366.80 85.90,367.30" fill="none" stroke="#1e1e1e" stroke-width="1.15" stroke-linecap="round"/><path d="M87.70,361.00 C88.60,361.10 89.30,361.90 88.90,362.80 L87.90,364.40 C87.40,365.40 87.60,366.80 89.00,367.30" fill="none" stroke="#1e1e1e" stroke-width="1.15" stroke-linecap="round"/>
<text x="7.9" y="374.98" font-size="10.4" fill="#2b2b2b" stroke="#2b2b2b" stroke-width="0.22" textLength="12.3" lengthAdjust="spacingAndGlyphs">0.1</text>
<polyline points="22,375.48 25,375.48 28,375.48 31,375.48 34,375.48 37,375.47 40,375.47 43,375.46 44.30,375.46 44.55,375.45 44.80,375.45 45.05,375.45 45.30,375.45 45.55,375.44 45.80,375.44 46,375.43 46.05,375.43 46.30,375.43 46.55,375.42 46.80,375.41 47.05,375.40 47.30,375.39 47.55,375.37 47.80,375.35 48.05,375.32 48.30,375.28 48.55,375.23 48.80,375.13 49,374.99 49.05,374.93 49.30,374.49 49.55,373.56 49.80,372.03 50.05,370.21 50.30,369.28 50.55,370.21 50.80,372.03 51.05,373.56 51.30,374.49 51.55,374.93 51.80,375.13 52,375.21 52.05,375.23 52.30,375.28 52.55,375.32 52.80,375.35 53.05,375.37 53.30,375.39 53.55,375.40 53.80,375.41 54.05,375.42 54.30,375.43 54.55,375.43 54.80,375.44 55,375.44 55.05,375.44 55.30,375.45 55.55,375.45 55.80,375.45 56.05,375.45 56.30,375.46 58,375.47 61,375.47 64,375.47 67,375.48 70,375.48 73,375.48 76,375.48 79,375.48 82,375.48 85,375.48 88,375.48 91,375.48 94,375.48 97,375.48 100,375.48 103,375.48 106,375.48 109,375.48 112,375.48 115,375.47 118,375.47 121,375.47 124,375.47 127,375.46 130,375.44 130.89,375.43 131.14,375.43 131.39,375.42 131.64,375.42 131.89,375.41 132.14,375.40 132.39,375.40 132.64,375.39 132.89,375.38 133,375.37 133.14,375.36 133.39,375.35 133.64,375.33 133.89,375.30 134.14,375.27 134.39,375.23 134.64,375.18 134.89,375.10 135.14,374.99 135.39,374.79 135.64,374.37 135.89,373.51 136,372.91 136.14,371.91 136.39,369.51 136.64,366.91 136.89,365.67 137.14,366.95 137.39,369.55 137.64,371.94 137.89,373.52 138.14,374.38 138.39,374.79 138.64,374.99 138.89,375.10 139,375.13 139.14,375.17 139.39,375.22 139.64,375.26 139.89,375.29 140.14,375.31 140.39,375.33 140.64,375.34 140.89,375.36 141.14,375.37 141.39,375.37 141.64,375.38 141.89,375.38 142,375.38 142.14,375.39 142.39,375.39 142.64,375.39 142.89,375.39 143.35,375.39 143.60,375.39 143.85,375.39 144.10,375.38 144.35,375.38 144.60,375.37 144.85,375.36 145,375.36 145.10,375.35 145.35,375.34 145.60,375.33 145.85,375.31 146.10,375.29 146.35,375.26 146.60,375.23 146.85,375.18 147.10,375.12 147.35,375.01 147.60,374.84 147.85,374.52 148,374.22 148.10,373.96 148.35,373.03 148.60,371.68 148.85,370.04 149.10,368.53 149.35,367.87 149.60,368.51 149.85,370.02 150.10,371.66 150.35,373.01 150.60,373.95 150.85,374.52 151,374.74 151.10,374.84 151.35,375.02 151.60,375.12 151.85,375.19 152.10,375.24 152.35,375.27 152.60,375.30 152.85,375.32 153.10,375.34 153.35,375.36 153.60,375.37 153.85,375.38 154,375.39 154.10,375.39 154.35,375.40 154.60,375.41 154.85,375.41 155.10,375.42 155.35,375.42 157,375.44 160,375.46 163,375.47 166,375.47 169,375.47 172,375.47 175,375.48 178,375.48 181,375.48 184,375.48 185,375.48" fill="none" stroke="#626262" stroke-width="1.45" stroke-linejoin="round"/>
<rect x="84.60" y="374.38" width="4.2" height="2.2" fill="#fff" fill-opacity="0.45"/><path d="M84.60,372.08 C85.50,372.18 86.20,372.98 85.80,373.88 L84.80,375.48 C84.30,376.48 84.50,377.88 85.90,378.38" fill="none" stroke="#1e1e1e" stroke-width="1.15" stroke-linecap="round"/><path d="M87.70,372.08 C88.60,372.18 89.30,372.98 88.90,373.88 L87.90,375.48 C87.40,376.48 87.60,377.88 89.00,378.38" fill="none" stroke="#1e1e1e" stroke-width="1.15" stroke-linecap="round"/>
<rect x="22" y="394" width="163" height="1" fill="#4f5c72"/>
<rect x="22" y="395" width="163" height="1" fill="#a6b8d4"/>
<rect x="22" y="396" width="163" height="1" fill="#cdd4cd"/>
<rect x="22" y="397" width="163" height="1" fill="#aaa6a6"/>
<path d="M47.7,395 L50.3,392.6 L52.9,395 Z" fill="#bcd8f2"/>
<path d="M134.9,395 L137.5,392.6 L140.1,395 Z" fill="#bcd8f2"/>
<path d="M148.9,395 L151.5,392.6 L154.1,395 Z" fill="#bcd8f2"/>
<polyline points="46.40,394.33 46.60,394.33 46.80,394.32 47,394.31 47.20,394.30 47.40,394.28 47.60,394.27 47.80,394.25 48,394.22 48.20,394.19 48.40,394.15 48.60,394.09 48.80,394.01 49,393.89 49.20,393.66 49.40,393.21 49.60,392.29 49.80,390.68 50,388.38 50.20,385.95 50.40,384.80 50.60,385.95 50.80,388.38 51,390.68 51.20,392.29 51.40,393.21 51.60,393.66 51.80,393.89 52,394.01 52.20,394.09 52.40,394.15 52.60,394.19 52.80,394.22 53,394.25 53.20,394.27 53.40,394.28 53.60,394.30 53.80,394.31 54,394.32 54.20,394.33 54.40,394.33" fill="none" stroke="#262626" stroke-width="1.3" stroke-linejoin="round"/>
<polyline points="133.50,394.33 133.70,394.33 133.90,394.32 134.10,394.31 134.30,394.30 134.50,394.29 134.70,394.27 134.90,394.25 135.10,394.22 135.30,394.19 135.50,394.15 135.70,394.10 135.90,394.02 136.10,393.90 136.30,393.68 136.50,393.23 136.70,392.33 136.90,390.76 137.10,388.50 137.30,386.13 137.50,385.00 137.70,386.13 137.90,388.50 138.10,390.76 138.30,392.33 138.50,393.23 138.70,393.68 138.90,393.90 139.10,394.02 139.30,394.10 139.50,394.15 139.70,394.19 139.90,394.22 140.10,394.25 140.30,394.27 140.50,394.29 140.70,394.30 140.90,394.31 141.10,394.32 141.30,394.33 141.50,394.33" fill="none" stroke="#262626" stroke-width="1.3" stroke-linejoin="round"/>
<polyline points="147.50,394.33 147.70,394.32 147.90,394.31 148.10,394.30 148.30,394.29 148.50,394.27 148.70,394.25 148.90,394.23 149.10,394.20 149.30,394.16 149.50,394.12 149.70,394.06 149.90,393.96 150.10,393.81 150.30,393.52 150.50,392.97 150.70,391.99 150.90,390.43 151.10,388.39 151.30,386.40 151.50,385.50 151.70,386.40 151.90,388.39 152.10,390.43 152.30,391.99 152.50,392.97 152.70,393.52 152.90,393.81 153.10,393.96 153.30,394.06 153.50,394.12 153.70,394.16 153.90,394.20 154.10,394.23 154.30,394.25 154.50,394.27 154.70,394.29 154.90,394.30 155.10,394.31 155.30,394.32 155.50,394.33" fill="none" stroke="#262626" stroke-width="1.3" stroke-linejoin="round"/>
<rect x="84.0" y="393.8" width="5.9" height="4.4" fill="#fff"/>
<path d="M84.90,392.30 C85.80,392.40 86.50,393.20 86.10,394.10 L85.10,395.70 C84.60,396.70 84.80,398.10 86.20,398.60" fill="none" stroke="#1e1e1e" stroke-width="1.15" stroke-linecap="round"/><path d="M88.00,392.30 C88.90,392.40 89.60,393.20 89.20,394.10 L88.20,395.70 C87.70,396.70 87.90,398.10 89.30,398.60" fill="none" stroke="#1e1e1e" stroke-width="1.15" stroke-linecap="round"/>
<text x="7.4" y="393.5" font-size="10.4" fill="#2b2b2b" stroke="#2b2b2b" stroke-width="0.22" textLength="12.3" lengthAdjust="spacingAndGlyphs">0.0</text>
<line x1="33.5" y1="397.6" x2="33.5" y2="399.8" stroke="#333" stroke-width="1"/>
<line x1="49.5" y1="397.6" x2="49.5" y2="399.8" stroke="#333" stroke-width="1"/>
<line x1="65.2" y1="397.6" x2="65.2" y2="399.8" stroke="#333" stroke-width="1"/>
<line x1="81.0" y1="397.6" x2="81.0" y2="399.8" stroke="#333" stroke-width="1"/>
<line x1="105.4" y1="397.6" x2="105.4" y2="399.8" stroke="#333" stroke-width="1"/>
<line x1="121.4" y1="397.6" x2="121.4" y2="399.8" stroke="#333" stroke-width="1"/>
<line x1="137.4" y1="397.6" x2="137.4" y2="399.8" stroke="#333" stroke-width="1"/>
<line x1="153.3" y1="397.6" x2="153.3" y2="399.8" stroke="#333" stroke-width="1"/>
<line x1="169.4" y1="397.6" x2="169.4" y2="399.8" stroke="#333" stroke-width="1"/>
<line x1="184.6" y1="397.6" x2="184.6" y2="399.8" stroke="#333" stroke-width="1"/>
<text x="33.6" y="415.0" font-size="12.6" fill="#222" stroke="#222" stroke-width="0.25" text-anchor="middle">5.2</text>
<text x="64.9" y="415.0" font-size="12.6" fill="#222" stroke="#222" stroke-width="0.25" text-anchor="middle">5.1</text>
<text x="105.6" y="415.0" font-size="12.6" fill="#222" stroke="#222" stroke-width="0.25" text-anchor="middle">3.8</text>
<text x="137.4" y="415.0" font-size="12.6" fill="#222" stroke="#222" stroke-width="0.25" text-anchor="middle">3.7</text>
<text x="169.2" y="415.0" font-size="12.6" fill="#222" stroke="#222" stroke-width="0.25" text-anchor="middle">3.6</text>
<text x="86.0" y="423.5" font-size="10.6" fill="#333" stroke="#333" stroke-width="0.15">ppm</text>
<text x="98.9" y="442.6" font-size="15.6" fill="#222" stroke="#222" stroke-width="0.3" text-anchor="middle">(a)</text>
<text x="50.9" y="383.9" font-size="9.6" fill="#18b040" stroke="#18b040" stroke-width="0.45" font-style="italic" text-anchor="middle">1</text>
<text x="138.0" y="383.9" font-size="9.8" fill="#1e2cf0" stroke="#1e2cf0" stroke-width="0.35" font-style="italic" text-anchor="middle">2</text>
<text x="151.9" y="383.9" font-size="9.8" fill="#f02424" stroke="#f02424" stroke-width="0.35" font-style="italic" text-anchor="middle">3</text>
<line x1="396.50" y1="23.80" x2="406.55" y2="29.60" stroke="#4e4e4e" stroke-width="1.15" stroke-linecap="round"/>
<line x1="406.55" y1="29.60" x2="406.55" y2="41.20" stroke="#4e4e4e" stroke-width="1.15" stroke-linecap="round"/>
<line x1="386.45" y1="41.20" x2="386.45" y2="29.60" stroke="#4e4e4e" stroke-width="1.15" stroke-linecap="round"/>
<line x1="386.45" y1="29.60" x2="396.50" y2="23.80" stroke="#4e4e4e" stroke-width="1.15" stroke-linecap="round"/>
<line x1="406.55" y1="41.20" x2="399.92" y2="45.03" stroke="#4e4e4e" stroke-width="1.15" stroke-linecap="round"/>
<line x1="386.45" y1="41.20" x2="393.08" y2="45.03" stroke="#4e4e4e" stroke-width="1.15" stroke-linecap="round"/>
<line x1="389.26" y1="30.29" x2="395.69" y2="26.58" stroke="#4e4e4e" stroke-width="1.15" stroke-linecap="round"/>
<line x1="404.55" y1="31.69" x2="404.55" y2="39.11" stroke="#4e4e4e" stroke-width="1.15" stroke-linecap="round"/>
<line x1="389.26" y1="40.51" x2="393.68" y2="43.06" stroke="#4e4e4e" stroke-width="1.15" stroke-linecap="round"/>
<text x="396.1" y="49.9" font-size="8.2" fill="#3a3a3a" stroke="#3a3a3a" stroke-width="0.25" text-anchor="middle">N</text>
<line x1="386.45" y1="41.20" x2="376.40" y2="46.90" stroke="#4e4e4e" stroke-width="1.15" stroke-linecap="round"/>
<line x1="376.40" y1="46.90" x2="376.40" y2="54.60" stroke="#4e4e4e" stroke-width="1.15" stroke-linecap="round"/>
<line x1="406.55" y1="41.20" x2="416.30" y2="46.90" stroke="#4e4e4e" stroke-width="1.15" stroke-linecap="round"/>
<line x1="416.30" y1="46.90" x2="416.30" y2="54.60" stroke="#4e4e4e" stroke-width="1.15" stroke-linecap="round"/>
<text x="375.9" y="61.8" font-size="8.7" fill="#444" stroke="#444" stroke-width="0.3" text-anchor="middle">O</text>
<text x="415.9" y="61.8" font-size="8.7" fill="#444" stroke="#444" stroke-width="0.3" text-anchor="middle">O</text>
<line x1="341.40" y1="58.40" x2="347.15" y2="48.44" stroke="#4e4e4e" stroke-width="1.15" stroke-linecap="round"/>
<line x1="347.15" y1="48.44" x2="358.65" y2="48.44" stroke="#4e4e4e" stroke-width="1.15" stroke-linecap="round"/>
<line x1="358.65" y1="48.44" x2="364.40" y2="58.40" stroke="#4e4e4e" stroke-width="1.15" stroke-linecap="round"/>
<line x1="364.40" y1="58.40" x2="358.65" y2="68.36" stroke="#4e4e4e" stroke-width="1.15" stroke-linecap="round"/>
<line x1="358.65" y1="68.36" x2="347.15" y2="68.36" stroke="#4e4e4e" stroke-width="1.15" stroke-linecap="round"/>
<line x1="347.15" y1="68.36" x2="341.40" y2="58.40" stroke="#4e4e4e" stroke-width="1.15" stroke-linecap="round"/>
<line x1="344.17" y1="57.61" x2="347.85" y2="51.23" stroke="#4e4e4e" stroke-width="1.15" stroke-linecap="round"/>
<line x1="357.95" y1="51.23" x2="361.63" y2="57.61" stroke="#4e4e4e" stroke-width="1.15" stroke-linecap="round"/>
<line x1="356.58" y1="66.36" x2="349.22" y2="66.36" stroke="#4e4e4e" stroke-width="1.15" stroke-linecap="round"/>
<line x1="364.40" y1="58.40" x2="372.60" y2="58.50" stroke="#4e4e4e" stroke-width="1.15" stroke-linecap="round"/>
<line x1="428.20" y1="58.60" x2="433.90" y2="48.73" stroke="#4e4e4e" stroke-width="1.15" stroke-linecap="round"/>
<line x1="433.90" y1="48.73" x2="445.30" y2="48.73" stroke="#4e4e4e" stroke-width="1.15" stroke-linecap="round"/>
<line x1="445.30" y1="48.73" x2="451.00" y2="58.60" stroke="#4e4e4e" stroke-width="1.15" stroke-linecap="round"/>
<line x1="451.00" y1="58.60" x2="445.30" y2="68.47" stroke="#4e4e4e" stroke-width="1.15" stroke-linecap="round"/>
<line x1="445.30" y1="68.47" x2="433.90" y2="68.47" stroke="#4e4e4e" stroke-width="1.15" stroke-linecap="round"/>
<line x1="433.90" y1="68.47" x2="428.20" y2="58.60" stroke="#4e4e4e" stroke-width="1.15" stroke-linecap="round"/>
<line x1="435.95" y1="50.73" x2="443.25" y2="50.73" stroke="#4e4e4e" stroke-width="1.15" stroke-linecap="round"/>
<line x1="448.24" y1="59.38" x2="444.59" y2="65.70" stroke="#4e4e4e" stroke-width="1.15" stroke-linecap="round"/>
<line x1="434.61" y1="65.70" x2="430.96" y2="59.38" stroke="#4e4e4e" stroke-width="1.15" stroke-linecap="round"/>
<line x1="419.60" y1="58.60" x2="428.20" y2="58.60" stroke="#4e4e4e" stroke-width="1.15" stroke-linecap="round"/>
<line x1="384.20" y1="103.20" x2="390.05" y2="93.07" stroke="#4e4e4e" stroke-width="1.15" stroke-linecap="round"/>
<line x1="390.05" y1="93.07" x2="401.75" y2="93.07" stroke="#4e4e4e" stroke-width="1.15" stroke-linecap="round"/>
<line x1="401.75" y1="93.07" x2="407.60" y2="103.20" stroke="#4e4e4e" stroke-width="1.15" stroke-linecap="round"/>
<line x1="407.60" y1="103.20" x2="401.75" y2="113.33" stroke="#4e4e4e" stroke-width="1.15" stroke-linecap="round"/>
<line x1="401.75" y1="113.33" x2="390.05" y2="113.33" stroke="#4e4e4e" stroke-width="1.15" stroke-linecap="round"/>
<line x1="390.05" y1="113.33" x2="384.20" y2="103.20" stroke="#4e4e4e" stroke-width="1.15" stroke-linecap="round"/>
<line x1="386.99" y1="102.38" x2="390.73" y2="95.89" stroke="#4e4e4e" stroke-width="1.15" stroke-linecap="round"/>
<line x1="401.07" y1="95.89" x2="404.81" y2="102.38" stroke="#4e4e4e" stroke-width="1.15" stroke-linecap="round"/>
<line x1="399.64" y1="111.33" x2="392.16" y2="111.33" stroke="#4e4e4e" stroke-width="1.15" stroke-linecap="round"/>
<line x1="358.65" y1="68.36" x2="364.80" y2="78.80" stroke="#4e4e4e" stroke-width="1.15" stroke-linecap="round"/>
<line x1="364.80" y1="78.80" x2="372.60" y2="78.80" stroke="#4e4e4e" stroke-width="1.15" stroke-linecap="round"/>
<line x1="376.30" y1="83.40" x2="376.30" y2="90.20" stroke="#4e4e4e" stroke-width="1.15" stroke-linecap="round"/>
<line x1="376.30" y1="90.20" x2="390.05" y2="93.07" stroke="#4e4e4e" stroke-width="1.15" stroke-linecap="round"/>
<line x1="433.90" y1="68.47" x2="427.90" y2="78.80" stroke="#4e4e4e" stroke-width="1.15" stroke-linecap="round"/>
<line x1="427.90" y1="78.80" x2="419.70" y2="78.80" stroke="#4e4e4e" stroke-width="1.15" stroke-linecap="round"/>
<line x1="416.70" y1="83.40" x2="416.70" y2="90.20" stroke="#4e4e4e" stroke-width="1.15" stroke-linecap="round"/>
<line x1="416.70" y1="90.20" x2="401.75" y2="93.07" stroke="#4e4e4e" stroke-width="1.15" stroke-linecap="round"/>
<text x="375.7" y="81.9" font-size="8.8" fill="#444" stroke="#444" stroke-width="0.25" text-anchor="middle">S</text>
<text x="415.9" y="81.9" font-size="8.8" fill="#444" stroke="#444" stroke-width="0.25" text-anchor="middle">S</text>
<text x="418.2" y="46.9" font-size="11" fill="#16a02a" font-style="italic" font-weight="bold">1</text>
<text x="429.8" y="85.8" font-size="11" fill="#1a2cf0" font-style="italic">2</text>
<text x="417.0" y="98.4" font-size="11" fill="#f02020" font-style="italic">3</text>
<text x="396.1" y="129.4" font-size="15.2" fill="#111" stroke="#111" stroke-width="0.3" font-weight="bold" text-anchor="middle">L</text>
<text x="396.0" y="154.2" font-size="15.6" fill="#222" stroke="#222" stroke-width="0.3" text-anchor="middle">(b)</text>
<rect x="291.3" y="181.9" width="253.0" height="203.8" fill="none" stroke="#3c3c3c" stroke-width="1.2"/>
<line x1="291.20" y1="385.75" x2="291.20" y2="389.15" stroke="#3c3c3c" stroke-width="1"/>
<text x="291.20" y="400.9" font-size="10.6" fill="#2b2b2b" stroke="#2b2b2b" stroke-width="0.22" text-anchor="middle">0.0</text>
<line x1="310.36" y1="385.75" x2="310.36" y2="387.75" stroke="#3c3c3c" stroke-width="1"/>
<line x1="329.51" y1="385.75" x2="329.51" y2="389.15" stroke="#3c3c3c" stroke-width="1"/>
<text x="329.51" y="400.9" font-size="10.6" fill="#2b2b2b" stroke="#2b2b2b" stroke-width="0.22" text-anchor="middle">0.5</text>
<line x1="348.66" y1="385.75" x2="348.66" y2="387.75" stroke="#3c3c3c" stroke-width="1"/>
<line x1="367.82" y1="385.75" x2="367.82" y2="389.15" stroke="#3c3c3c" stroke-width="1"/>
<text x="367.82" y="400.9" font-size="10.6" fill="#2b2b2b" stroke="#2b2b2b" stroke-width="0.22" text-anchor="middle">1.0</text>
<line x1="386.98" y1="385.75" x2="386.98" y2="387.75" stroke="#3c3c3c" stroke-width="1"/>
<line x1="406.13" y1="385.75" x2="406.13" y2="389.15" stroke="#3c3c3c" stroke-width="1"/>
<text x="406.13" y="400.9" font-size="10.6" fill="#2b2b2b" stroke="#2b2b2b" stroke-width="0.22" text-anchor="middle">1.5</text>
<line x1="425.28" y1="385.75" x2="425.28" y2="387.75" stroke="#3c3c3c" stroke-width="1"/>
<line x1="444.44" y1="385.75" x2="444.44" y2="389.15" stroke="#3c3c3c" stroke-width="1"/>
<text x="444.44" y="400.9" font-size="10.6" fill="#2b2b2b" stroke="#2b2b2b" stroke-width="0.22" text-anchor="middle">2.0</text>
<line x1="463.60" y1="385.75" x2="463.60" y2="387.75" stroke="#3c3c3c" stroke-width="1"/>
<line x1="482.75" y1="385.75" x2="482.75" y2="389.15" stroke="#3c3c3c" stroke-width="1"/>
<text x="482.75" y="400.9" font-size="10.6" fill="#2b2b2b" stroke="#2b2b2b" stroke-width="0.22" text-anchor="middle">2.5</text>
<line x1="501.90" y1="385.75" x2="501.90" y2="387.75" stroke="#3c3c3c" stroke-width="1"/>
<line x1="521.06" y1="385.75" x2="521.06" y2="389.15" stroke="#3c3c3c" stroke-width="1"/>
<text x="521.06" y="400.9" font-size="10.6" fill="#2b2b2b" stroke="#2b2b2b" stroke-width="0.22" text-anchor="middle">3.0</text>
<line x1="540.22" y1="385.75" x2="540.22" y2="387.75" stroke="#3c3c3c" stroke-width="1"/>
<line x1="289.10" y1="181.98" x2="291.30" y2="181.98" stroke="#3c3c3c" stroke-width="1"/>
<line x1="287.30" y1="200.50" x2="291.30" y2="200.50" stroke="#3c3c3c" stroke-width="1"/>
<text x="284.3" y="204.10" font-size="10.6" fill="#2b2b2b" stroke="#2b2b2b" stroke-width="0.22" text-anchor="end">0.00</text>
<line x1="289.10" y1="219.02" x2="291.30" y2="219.02" stroke="#3c3c3c" stroke-width="1"/>
<line x1="287.30" y1="237.54" x2="291.30" y2="237.54" stroke="#3c3c3c" stroke-width="1"/>
<text x="284.3" y="241.14" font-size="10.6" fill="#2b2b2b" stroke="#2b2b2b" stroke-width="0.22" text-anchor="end">-0.02</text>
<line x1="289.10" y1="256.06" x2="291.30" y2="256.06" stroke="#3c3c3c" stroke-width="1"/>
<line x1="287.30" y1="274.58" x2="291.30" y2="274.58" stroke="#3c3c3c" stroke-width="1"/>
<text x="284.3" y="278.18" font-size="10.6" fill="#2b2b2b" stroke="#2b2b2b" stroke-width="0.22" text-anchor="end">-0.04</text>
<line x1="289.10" y1="293.10" x2="291.30" y2="293.10" stroke="#3c3c3c" stroke-width="1"/>
<line x1="287.30" y1="311.62" x2="291.30" y2="311.62" stroke="#3c3c3c" stroke-width="1"/>
<text x="284.3" y="315.22" font-size="10.6" fill="#2b2b2b" stroke="#2b2b2b" stroke-width="0.22" text-anchor="end">-0.06</text>
<line x1="289.10" y1="330.14" x2="291.30" y2="330.14" stroke="#3c3c3c" stroke-width="1"/>
<line x1="287.30" y1="348.66" x2="291.30" y2="348.66" stroke="#3c3c3c" stroke-width="1"/>
<text x="284.3" y="352.26" font-size="10.6" fill="#2b2b2b" stroke="#2b2b2b" stroke-width="0.22" text-anchor="end">-0.08</text>
<line x1="289.10" y1="367.18" x2="291.30" y2="367.18" stroke="#3c3c3c" stroke-width="1"/>
<line x1="287.30" y1="385.70" x2="291.30" y2="385.70" stroke="#3c3c3c" stroke-width="1"/>
<text x="284.3" y="389.30" font-size="10.6" fill="#2b2b2b" stroke="#2b2b2b" stroke-width="0.22" text-anchor="end">-0.10</text>
<clipPath id="pc"><rect x="291.3" y="181.9" width="253" height="203.85"/></clipPath>
<g clip-path="url(#pc)">
<polyline points="291.20,200.50 298.86,200.67 306.52,200.81 314.19,200.95 321.85,201.09 329.51,201.22 337.17,201.34 344.83,201.47 352.50,201.59 360.16,201.72 367.82,201.84 375.48,201.96 383.14,202.08 390.81,202.19 398.47,202.31 406.13,202.43 413.79,202.54 421.45,202.66 429.12,202.77 436.78,202.88 444.44,203.00 452.10,203.11 459.76,203.22 467.43,203.33 475.09,203.44 482.75,203.55 490.41,203.66 498.07,203.77 505.74,203.88 513.40,203.99 521.06,204.10 528.72,204.20" fill="none" stroke="#b0dcb0" stroke-width="1"/>
<polyline points="291.20,200.50 298.86,203.46 306.52,207.54 314.19,211.06 321.85,214.20 329.51,217.17 337.17,220.13 344.83,222.72 352.50,225.50 360.16,228.09 367.82,230.69 375.48,232.54 383.14,235.13 390.81,236.61 398.47,238.28 406.13,241.06 413.79,244.02 421.45,244.39 429.12,246.06 436.78,247.73 444.44,249.02 452.10,250.13 459.76,251.99 467.43,253.10 475.09,254.21 482.75,255.50 490.41,257.17 498.07,258.47 505.74,259.21 513.40,260.13 521.06,261.43 528.72,261.80" fill="none" stroke="#b8b8ff" stroke-width="1"/>
<polyline points="291.20,200.50 298.86,212.35 306.52,224.76 314.19,236.06 321.85,247.17 329.51,256.80 337.17,265.69 344.83,273.84 352.50,281.43 360.16,289.21 367.82,295.88 375.48,302.36 383.14,308.10 390.81,313.47 398.47,319.58 406.13,322.73 413.79,325.32 421.45,331.25 429.12,336.07 436.78,339.03 444.44,342.55 452.10,345.70 459.76,348.66 467.43,351.62 475.09,354.22 482.75,356.81 490.41,359.96 498.07,362.18 505.74,363.66 513.40,366.25 521.06,368.11 528.72,369.22" fill="none" stroke="#ffb4b4" stroke-width="1"/>
<circle cx="298.86" cy="200.67" r="2.5" fill="#0a8a0a"/>
<circle cx="306.52" cy="200.81" r="2.5" fill="#0a8a0a"/>
<circle cx="314.19" cy="200.95" r="2.5" fill="#0a8a0a"/>
<circle cx="321.85" cy="201.09" r="2.5" fill="#0a8a0a"/>
<circle cx="329.51" cy="201.22" r="2.5" fill="#0a8a0a"/>
<circle cx="337.17" cy="201.34" r="2.5" fill="#0a8a0a"/>
<circle cx="344.83" cy="201.47" r="2.5" fill="#0a8a0a"/>
<circle cx="352.50" cy="201.59" r="2.5" fill="#0a8a0a"/>
<circle cx="360.16" cy="201.72" r="2.5" fill="#0a8a0a"/>
<circle cx="367.82" cy="201.84" r="2.5" fill="#0a8a0a"/>
<circle cx="375.48" cy="201.96" r="2.5" fill="#0a8a0a"/>
<circle cx="383.14" cy="202.08" r="2.5" fill="#0a8a0a"/>
<circle cx="390.81" cy="202.19" r="2.5" fill="#0a8a0a"/>
<circle cx="398.47" cy="202.31" r="2.5" fill="#0a8a0a"/>
<circle cx="406.13" cy="202.43" r="2.5" fill="#0a8a0a"/>
<circle cx="413.79" cy="202.54" r="2.5" fill="#0a8a0a"/>
<circle cx="421.45" cy="202.66" r="2.5" fill="#0a8a0a"/>
<circle cx="429.12" cy="202.77" r="2.5" fill="#0a8a0a"/>
<circle cx="436.78" cy="202.88" r="2.5" fill="#0a8a0a"/>
<circle cx="444.44" cy="203.00" r="2.5" fill="#0a8a0a"/>
<circle cx="452.10" cy="203.11" r="2.5" fill="#0a8a0a"/>
<circle cx="459.76" cy="203.22" r="2.5" fill="#0a8a0a"/>
<circle cx="467.43" cy="203.33" r="2.5" fill="#0a8a0a"/>
<circle cx="475.09" cy="203.44" r="2.5" fill="#0a8a0a"/>
<circle cx="482.75" cy="203.55" r="2.5" fill="#0a8a0a"/>
<circle cx="490.41" cy="203.66" r="2.5" fill="#0a8a0a"/>
<circle cx="498.07" cy="203.77" r="2.5" fill="#0a8a0a"/>
<circle cx="505.74" cy="203.88" r="2.5" fill="#0a8a0a"/>
<circle cx="513.40" cy="203.99" r="2.5" fill="#0a8a0a"/>
<circle cx="521.06" cy="204.10" r="2.5" fill="#0a8a0a"/>
<circle cx="528.72" cy="204.20" r="2.5" fill="#0a8a0a"/>
<circle cx="298.86" cy="203.46" r="2.5" fill="#0000ff"/>
<circle cx="306.52" cy="207.54" r="2.5" fill="#0000ff"/>
<circle cx="314.19" cy="211.06" r="2.5" fill="#0000ff"/>
<circle cx="321.85" cy="214.20" r="2.5" fill="#0000ff"/>
<circle cx="329.51" cy="217.17" r="2.5" fill="#0000ff"/>
<circle cx="337.17" cy="220.13" r="2.5" fill="#0000ff"/>
<circle cx="344.83" cy="222.72" r="2.5" fill="#0000ff"/>
<circle cx="352.50" cy="225.50" r="2.5" fill="#0000ff"/>
<circle cx="360.16" cy="228.09" r="2.5" fill="#0000ff"/>
<circle cx="367.82" cy="230.69" r="2.5" fill="#0000ff"/>
<circle cx="375.48" cy="232.54" r="2.5" fill="#0000ff"/>
<circle cx="383.14" cy="235.13" r="2.5" fill="#0000ff"/>
<circle cx="390.81" cy="236.61" r="2.5" fill="#0000ff"/>
<circle cx="398.47" cy="238.28" r="2.5" fill="#0000ff"/>
<circle cx="406.13" cy="241.06" r="2.5" fill="#0000ff"/>
<circle cx="413.79" cy="244.02" r="2.5" fill="#0000ff"/>
<circle cx="421.45" cy="244.39" r="2.5" fill="#0000ff"/>
<circle cx="429.12" cy="246.06" r="2.5" fill="#0000ff"/>
<circle cx="436.78" cy="247.73" r="2.5" fill="#0000ff"/>
<circle cx="444.44" cy="249.02" r="2.5" fill="#0000ff"/>
<circle cx="452.10" cy="250.13" r="2.5" fill="#0000ff"/>
<circle cx="459.76" cy="251.99" r="2.5" fill="#0000ff"/>
<circle cx="467.43" cy="253.10" r="2.5" fill="#0000ff"/>
<circle cx="475.09" cy="254.21" r="2.5" fill="#0000ff"/>
<circle cx="482.75" cy="255.50" r="2.5" fill="#0000ff"/>
<circle cx="490.41" cy="257.17" r="2.5" fill="#0000ff"/>
<circle cx="498.07" cy="258.47" r="2.5" fill="#0000ff"/>
<circle cx="505.74" cy="259.21" r="2.5" fill="#0000ff"/>
<circle cx="513.40" cy="260.13" r="2.5" fill="#0000ff"/>
<circle cx="521.06" cy="261.43" r="2.5" fill="#0000ff"/>
<circle cx="528.72" cy="261.80" r="2.5" fill="#0000ff"/>
<circle cx="291.20" cy="200.50" r="2.5" fill="#ff0000"/>
<circle cx="298.86" cy="212.35" r="2.5" fill="#ff0000"/>
<circle cx="306.52" cy="224.76" r="2.5" fill="#ff0000"/>
<circle cx="314.19" cy="236.06" r="2.5" fill="#ff0000"/>
<circle cx="321.85" cy="247.17" r="2.5" fill="#ff0000"/>
<circle cx="329.51" cy="256.80" r="2.5" fill="#ff0000"/>
<circle cx="337.17" cy="265.69" r="2.5" fill="#ff0000"/>
<circle cx="344.83" cy="273.84" r="2.5" fill="#ff0000"/>
<circle cx="352.50" cy="281.43" r="2.5" fill="#ff0000"/>
<circle cx="360.16" cy="289.21" r="2.5" fill="#ff0000"/>
<circle cx="367.82" cy="295.88" r="2.5" fill="#ff0000"/>
<circle cx="375.48" cy="302.36" r="2.5" fill="#ff0000"/>
<circle cx="383.14" cy="308.10" r="2.5" fill="#ff0000"/>
<circle cx="390.81" cy="313.47" r="2.5" fill="#ff0000"/>
<circle cx="398.47" cy="319.58" r="2.5" fill="#ff0000"/>
<circle cx="406.13" cy="322.73" r="2.5" fill="#ff0000"/>
<circle cx="413.79" cy="325.32" r="2.5" fill="#ff0000"/>
<circle cx="421.45" cy="331.25" r="2.5" fill="#ff0000"/>
<circle cx="429.12" cy="336.07" r="2.5" fill="#ff0000"/>
<circle cx="436.78" cy="339.03" r="2.5" fill="#ff0000"/>
<circle cx="444.44" cy="342.55" r="2.5" fill="#ff0000"/>
<circle cx="452.10" cy="345.70" r="2.5" fill="#ff0000"/>
<circle cx="459.76" cy="348.66" r="2.5" fill="#ff0000"/>
<circle cx="467.43" cy="351.62" r="2.5" fill="#ff0000"/>
<circle cx="475.09" cy="354.22" r="2.5" fill="#ff0000"/>
<circle cx="482.75" cy="356.81" r="2.5" fill="#ff0000"/>
<circle cx="490.41" cy="359.96" r="2.5" fill="#ff0000"/>
<circle cx="498.07" cy="362.18" r="2.5" fill="#ff0000"/>
<circle cx="505.74" cy="363.66" r="2.5" fill="#ff0000"/>
<circle cx="513.40" cy="366.25" r="2.5" fill="#ff0000"/>
<circle cx="521.06" cy="368.11" r="2.5" fill="#ff0000"/>
<circle cx="528.72" cy="369.22" r="2.5" fill="#ff0000"/>
</g>
<text x="534.6" y="206.3" font-size="10.6" fill="#0a8a0a" font-style="italic">1</text>
<text x="534.2" y="265.4" font-size="10.6" fill="#0000ff" font-style="italic">2</text>
<text x="533.8" y="372.6" font-size="10.6" fill="#ff0000" font-style="italic">3</text>
<text transform="translate(255.8,284.4) rotate(-90)" font-size="10.8" font-weight="bold" fill="#2b2b2b" stroke="#2b2b2b" stroke-width="0.22" text-anchor="middle">&#916;Chemical Shift (ppm)</text>
<text x="417.7" y="420.5" font-size="11.4" fill="#2b2b2b" stroke="#2b2b2b" stroke-width="0.22" text-anchor="middle">Mole Ratio (Hg<tspan font-size="7" dx="0.8" dy="-4.2">2+</tspan><tspan dx="0.3" dy="4.2">/</tspan><tspan font-weight="bold" stroke-width="0.45">L</tspan>)</text>
<text x="417.5" y="444.9" font-size="15.6" fill="#222" stroke="#222" stroke-width="0.3" text-anchor="middle">(c)</text>
</svg>
</body></html>
